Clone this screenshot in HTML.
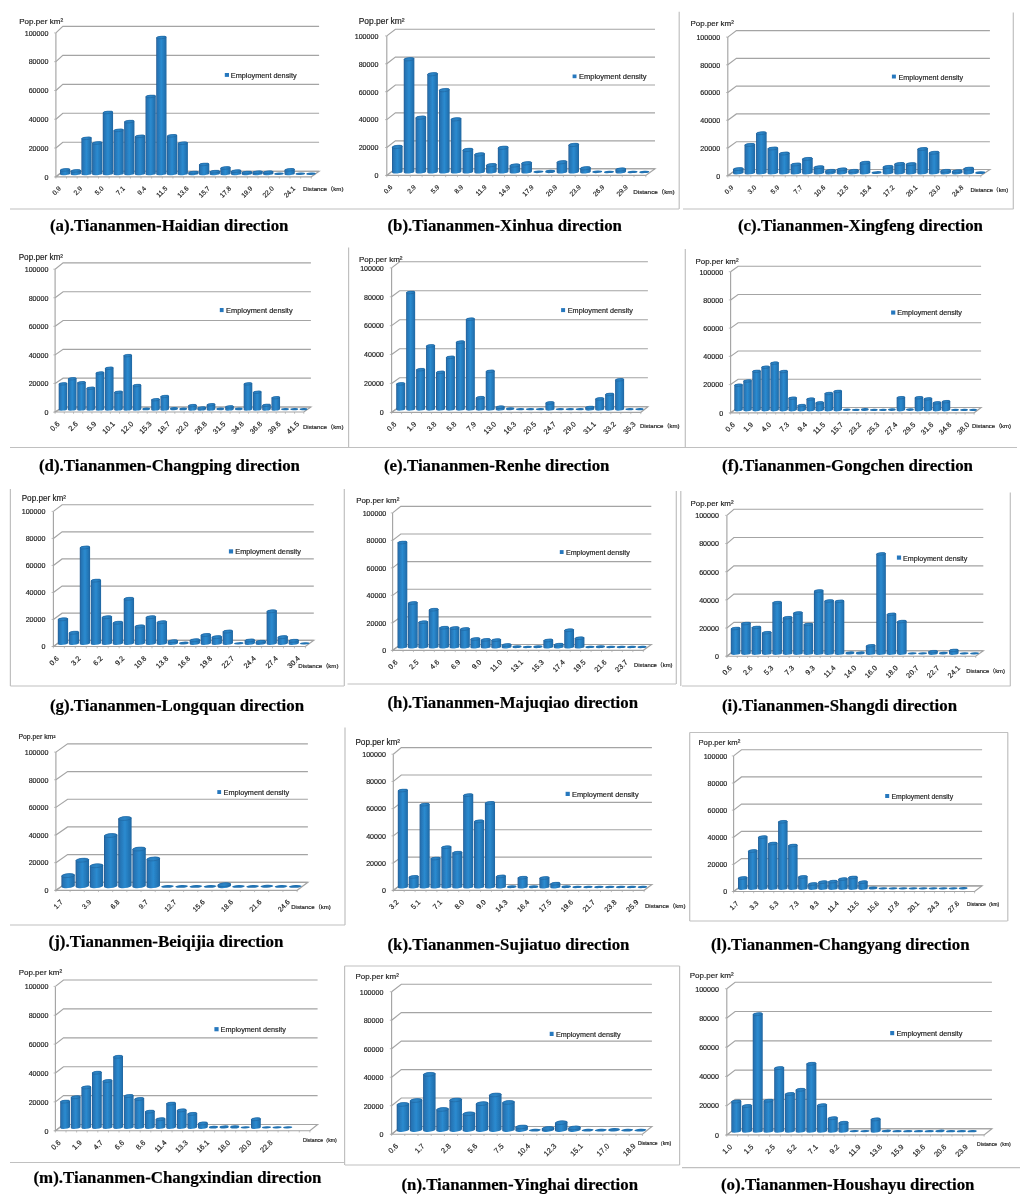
<!DOCTYPE html>
<html lang="en"><head><meta charset="utf-8"><title>Employment density by direction</title>
<style>
html,body{margin:0;padding:0;background:#fff;}
body{width:1024px;height:1200px;overflow:hidden;position:relative;}
svg{position:absolute;left:0;top:0;display:block;}
text{font-family:"Liberation Sans","Noto Sans CJK SC",sans-serif;fill:#1e1e1e;stroke:#1e1e1e;stroke-width:0.18px;}
.cap{font-family:"Liberation Serif",serif;font-weight:bold;font-size:16.6px;fill:#000;stroke:#000;stroke-width:0.2px;}
.g{fill:none;stroke:#a4a4a4;stroke-width:1.15;}
.b{fill:none;stroke:#c0c0c0;stroke-width:1.2;}
.tk{fill:none;stroke:#a8a8a8;stroke-width:0.7;}
.bar{fill:url(#cg);}
.top{fill:url(#tg);stroke:#1d5f98;stroke-width:0.5;}
.lg{fill:#2878be;}
.flat{fill:#2273b3;}
</style></head><body>
<svg width="1024" height="1200" viewBox="0 0 1024 1200">
<defs>
<linearGradient id="cg" x1="0" x2="1" y1="0" y2="0"><stop offset="0" stop-color="#245a8e"/><stop offset="0.12" stop-color="#2672b2"/><stop offset="0.5" stop-color="#2b8bd0"/><stop offset="0.85" stop-color="#2273b3"/><stop offset="1" stop-color="#1f669f"/></linearGradient>
<linearGradient id="tg" x1="0" x2="1" y1="0" y2="0"><stop offset="0" stop-color="#2a78b8"/><stop offset="0.5" stop-color="#2c86c8"/><stop offset="1" stop-color="#2372b0"/></linearGradient>
<filter id="soft" x="0" y="0" width="1024" height="1200" filterUnits="userSpaceOnUse"><feGaussianBlur stdDeviation="0.35"/></filter>
</defs>
<rect x="0" y="0" width="1024" height="1200" fill="#ffffff"/>
<g filter="url(#soft)">
<line class="b" x1="10" y1="209" x2="345" y2="209"/>
<line class="b" x1="345" y1="209" x2="679" y2="209"/>
<line class="b" x1="679.2" y1="11.7" x2="679.2" y2="209"/>
<line class="b" x1="683" y1="209" x2="1013.5" y2="209"/>
<line class="b" x1="1013.3" y1="12.5" x2="1013.3" y2="209"/>
<line class="b" x1="10" y1="447.5" x2="1017" y2="447.5"/>
<line class="b" x1="348.6" y1="247.5" x2="348.6" y2="447.5"/>
<line class="b" x1="685.3" y1="249" x2="685.3" y2="447.5"/>
<line class="b" x1="10.4" y1="489" x2="10.4" y2="686"/>
<line class="b" x1="10.4" y1="686" x2="344" y2="686"/>
<line class="b" x1="344.3" y1="489" x2="344.3" y2="686"/>
<line class="b" x1="347.5" y1="684" x2="676" y2="684"/>
<line class="b" x1="676.3" y1="491" x2="676.3" y2="684"/>
<line class="b" x1="680.8" y1="491" x2="680.8" y2="686"/>
<line class="b" x1="682" y1="686" x2="1010.5" y2="686"/>
<line class="b" x1="1010.3" y1="492.5" x2="1010.3" y2="686"/>
<line class="b" x1="10" y1="925" x2="345" y2="925"/>
<line class="b" x1="345" y1="727.5" x2="345" y2="925"/>
<line class="b" x1="689.7" y1="732.5" x2="1008" y2="732.5"/>
<line class="b" x1="689.7" y1="732.5" x2="689.7" y2="921"/>
<line class="b" x1="689.7" y1="921" x2="1007.5" y2="921"/>
<line class="b" x1="1007.8" y1="732.5" x2="1007.8" y2="921"/>
<line class="b" x1="10" y1="1162.5" x2="345" y2="1162.5"/>
<line class="b" x1="344.6" y1="966" x2="344.6" y2="1165"/>
<line class="b" x1="344.6" y1="966" x2="679.6" y2="966"/>
<line class="b" x1="679.6" y1="966" x2="679.6" y2="1165"/>
<line class="b" x1="345" y1="1165" x2="679.6" y2="1165"/>
<line class="b" x1="682" y1="1167.7" x2="1020" y2="1167.7"/>
<g id="panel-a">
<polyline class="g" points="55.9,32.9 62.8,26.4 319.1,26.4"/>
<polyline class="g" points="55.9,61.68 62.8,55.36 319.1,55.36"/>
<polyline class="g" points="55.9,90.46 62.8,84.32 319.1,84.32"/>
<polyline class="g" points="55.9,119.24 62.8,113.28 319.1,113.28"/>
<polyline class="g" points="55.9,148.02 62.8,142.24 319.1,142.24"/>
<polyline class="g" points="55.9,176.8 62.8,171.2 319.1,171.2"/>
<polygon class="g" points="55.9,176.8 62.8,171.2 319.1,171.2 311.3,176.8"/>
<line class="g" x1="55.9" y1="32.9" x2="55.9" y2="176.8"/>
<path class="tk" d="M55.9,32.9 h-1.8 M55.9,61.68 h-1.8 M55.9,90.46 h-1.8 M55.9,119.24 h-1.8 M55.9,148.02 h-1.8 M55.9,176.8 h-1.8"/>
<path class="tk" d="M55.9,176.8 v1.8 M66.54,176.8 v1.8 M77.18,176.8 v1.8 M87.83,176.8 v1.8 M98.47,176.8 v1.8 M109.11,176.8 v1.8 M119.75,176.8 v1.8 M130.39,176.8 v1.8 M141.03,176.8 v1.8 M151.68,176.8 v1.8 M162.32,176.8 v1.8 M172.96,176.8 v1.8 M183.6,176.8 v1.8 M194.24,176.8 v1.8 M204.88,176.8 v1.8 M215.53,176.8 v1.8 M226.17,176.8 v1.8 M236.81,176.8 v1.8 M247.45,176.8 v1.8 M258.09,176.8 v1.8 M268.73,176.8 v1.8 M279.38,176.8 v1.8 M290.02,176.8 v1.8 M300.66,176.8 v1.8 M311.3,176.8 v1.8"/>
<text x="48.4" y="35.71" font-size="7.1" text-anchor="end">100000</text>
<text x="48.4" y="64.49" font-size="7.1" text-anchor="end">80000</text>
<text x="48.4" y="93.27" font-size="7.1" text-anchor="end">60000</text>
<text x="48.4" y="122.05" font-size="7.1" text-anchor="end">40000</text>
<text x="48.4" y="150.83" font-size="7.1" text-anchor="end">20000</text>
<text x="48.4" y="179.61" font-size="7.1" text-anchor="end">0</text>
<path class="bar" d="M60,170.36 L60,174.25 A5.15,1.4 -5 0 0 70.3,173.35 L70.3,169.46 A5.15,1.4 -5 0 0 60,170.36Z"/>
<ellipse class="top" cx="65.15" cy="169.91" rx="4.9" ry="1.3" transform="rotate(-5 65.15 169.91)"/>
<path class="bar" d="M70.69,171.34 L70.69,174.25 A5.15,1.4 -5 0 0 80.99,173.35 L80.99,170.44 A5.15,1.4 -5 0 0 70.69,171.34Z"/>
<ellipse class="top" cx="75.84" cy="170.89" rx="4.9" ry="1.3" transform="rotate(-5 75.84 170.89)"/>
<path class="bar" d="M81.38,138.75 L81.38,174.25 A5.15,1.4 -5 0 0 91.68,173.35 L91.68,137.85 A5.15,1.4 -5 0 0 81.38,138.75Z"/>
<ellipse class="top" cx="86.53" cy="138.3" rx="4.9" ry="1.3" transform="rotate(-5 86.53 138.3)"/>
<path class="bar" d="M92.07,143.45 L92.07,174.25 A5.15,1.4 -5 0 0 102.37,173.35 L102.37,142.55 A5.15,1.4 -5 0 0 92.07,143.45Z"/>
<ellipse class="top" cx="97.22" cy="143" rx="4.9" ry="1.3" transform="rotate(-5 97.22 143)"/>
<path class="bar" d="M102.76,112.85 L102.76,174.25 A5.15,1.4 -5 0 0 113.06,173.35 L113.06,111.95 A5.15,1.4 -5 0 0 102.76,112.85Z"/>
<ellipse class="top" cx="107.91" cy="112.4" rx="4.9" ry="1.3" transform="rotate(-5 107.91 112.4)"/>
<path class="bar" d="M113.45,130.75 L113.45,174.25 A5.15,1.4 -5 0 0 123.75,173.35 L123.75,129.85 A5.15,1.4 -5 0 0 113.45,130.75Z"/>
<ellipse class="top" cx="118.6" cy="130.3" rx="4.9" ry="1.3" transform="rotate(-5 118.6 130.3)"/>
<path class="bar" d="M124.14,122.05 L124.14,174.25 A5.15,1.4 -5 0 0 134.44,173.35 L134.44,121.15 A5.15,1.4 -5 0 0 124.14,122.05Z"/>
<ellipse class="top" cx="129.29" cy="121.6" rx="4.9" ry="1.3" transform="rotate(-5 129.29 121.6)"/>
<path class="bar" d="M134.83,136.75 L134.83,174.25 A5.15,1.4 -5 0 0 145.13,173.35 L145.13,135.85 A5.15,1.4 -5 0 0 134.83,136.75Z"/>
<ellipse class="top" cx="139.98" cy="136.3" rx="4.9" ry="1.3" transform="rotate(-5 139.98 136.3)"/>
<path class="bar" d="M145.52,96.85 L145.52,174.25 A5.15,1.4 -5 0 0 155.82,173.35 L155.82,95.95 A5.15,1.4 -5 0 0 145.52,96.85Z"/>
<ellipse class="top" cx="150.67" cy="96.4" rx="4.9" ry="1.3" transform="rotate(-5 150.67 96.4)"/>
<path class="bar" d="M156.21,37.95 L156.21,174.25 A5.15,1.4 -5 0 0 166.51,173.35 L166.51,37.05 A5.15,1.4 -5 0 0 156.21,37.95Z"/>
<ellipse class="top" cx="161.36" cy="37.5" rx="4.9" ry="1.3" transform="rotate(-5 161.36 37.5)"/>
<path class="bar" d="M166.9,136.25 L166.9,174.25 A5.15,1.4 -5 0 0 177.2,173.35 L177.2,135.35 A5.15,1.4 -5 0 0 166.9,136.25Z"/>
<ellipse class="top" cx="172.05" cy="135.8" rx="4.9" ry="1.3" transform="rotate(-5 172.05 135.8)"/>
<path class="bar" d="M177.59,143.65 L177.59,174.25 A5.15,1.4 -5 0 0 187.89,173.35 L187.89,142.75 A5.15,1.4 -5 0 0 177.59,143.65Z"/>
<ellipse class="top" cx="182.74" cy="143.2" rx="4.9" ry="1.3" transform="rotate(-5 182.74 143.2)"/>
<path class="bar" d="M188.28,172.96 L188.28,174.25 A5.15,1.4 -5 0 0 198.58,173.35 L198.58,172.07 A5.15,1.4 -5 0 0 188.28,172.96Z"/>
<ellipse class="top" cx="193.43" cy="172.52" rx="4.9" ry="1.3" transform="rotate(-5 193.43 172.52)"/>
<path class="bar" d="M198.97,164.85 L198.97,174.25 A5.15,1.4 -5 0 0 209.27,173.35 L209.27,163.95 A5.15,1.4 -5 0 0 198.97,164.85Z"/>
<ellipse class="top" cx="204.12" cy="164.4" rx="4.9" ry="1.3" transform="rotate(-5 204.12 164.4)"/>
<path class="bar" d="M209.66,172.1 L209.66,174.25 A5.15,1.4 -5 0 0 219.96,173.35 L219.96,171.2 A5.15,1.4 -5 0 0 209.66,172.1Z"/>
<ellipse class="top" cx="214.81" cy="171.65" rx="4.9" ry="1.3" transform="rotate(-5 214.81 171.65)"/>
<path class="bar" d="M220.35,168.41 L220.35,174.25 A5.15,1.4 -5 0 0 230.65,173.35 L230.65,167.51 A5.15,1.4 -5 0 0 220.35,168.41Z"/>
<ellipse class="top" cx="225.5" cy="167.96" rx="4.9" ry="1.3" transform="rotate(-5 225.5 167.96)"/>
<path class="bar" d="M231.04,171.55 L231.04,174.25 A5.15,1.4 -5 0 0 241.34,173.35 L241.34,170.66 A5.15,1.4 -5 0 0 231.04,171.55Z"/>
<ellipse class="top" cx="236.19" cy="171.1" rx="4.9" ry="1.3" transform="rotate(-5 236.19 171.1)"/>
<path class="bar" d="M241.73,172.96 L241.73,174.25 A5.15,1.4 -5 0 0 252.03,173.35 L252.03,172.07 A5.15,1.4 -5 0 0 241.73,172.96Z"/>
<ellipse class="top" cx="246.88" cy="172.52" rx="4.9" ry="1.3" transform="rotate(-5 246.88 172.52)"/>
<path class="bar" d="M252.42,172.64 L252.42,174.25 A5.15,1.4 -5 0 0 262.72,173.35 L262.72,171.74 A5.15,1.4 -5 0 0 252.42,172.64Z"/>
<ellipse class="top" cx="257.57" cy="172.19" rx="4.9" ry="1.3" transform="rotate(-5 257.57 172.19)"/>
<path class="bar" d="M263.11,172.64 L263.11,174.25 A5.15,1.4 -5 0 0 273.41,173.35 L273.41,171.74 A5.15,1.4 -5 0 0 263.11,172.64Z"/>
<ellipse class="top" cx="268.26" cy="172.19" rx="4.9" ry="1.3" transform="rotate(-5 268.26 172.19)"/>
<ellipse class="flat" cx="278.95" cy="173.75" rx="4.85" ry="1.15" transform="rotate(-3 278.95 173.75)"/>
<path class="bar" d="M284.49,170.25 L284.49,174.25 A5.15,1.4 -5 0 0 294.79,173.35 L294.79,169.35 A5.15,1.4 -5 0 0 284.49,170.25Z"/>
<ellipse class="top" cx="289.64" cy="169.8" rx="4.9" ry="1.3" transform="rotate(-5 289.64 169.8)"/>
<ellipse class="flat" cx="300.33" cy="173.75" rx="4.85" ry="1.15" transform="rotate(-3 300.33 173.75)"/>
<ellipse class="flat" cx="311.02" cy="173.75" rx="4.85" ry="1.15" transform="rotate(-3 311.02 173.75)"/>
<text transform="translate(59.72,187.3) rotate(-45)" font-size="6.6" text-anchor="end" y="2.38" stroke-width="0.2">0.9</text>
<text transform="translate(81,187.3) rotate(-45)" font-size="6.6" text-anchor="end" y="2.38" stroke-width="0.2">2.9</text>
<text transform="translate(102.29,187.3) rotate(-45)" font-size="6.6" text-anchor="end" y="2.38" stroke-width="0.2">5.0</text>
<text transform="translate(123.57,187.3) rotate(-45)" font-size="6.6" text-anchor="end" y="2.38" stroke-width="0.2">7.1</text>
<text transform="translate(144.85,187.3) rotate(-45)" font-size="6.6" text-anchor="end" y="2.38" stroke-width="0.2">9.4</text>
<text transform="translate(166.14,187.3) rotate(-45)" font-size="6.6" text-anchor="end" y="2.38" stroke-width="0.2">11.5</text>
<text transform="translate(187.42,187.3) rotate(-45)" font-size="6.6" text-anchor="end" y="2.38" stroke-width="0.2">13.6</text>
<text transform="translate(208.7,187.3) rotate(-45)" font-size="6.6" text-anchor="end" y="2.38" stroke-width="0.2">15.7</text>
<text transform="translate(229.99,187.3) rotate(-45)" font-size="6.6" text-anchor="end" y="2.38" stroke-width="0.2">17.8</text>
<text transform="translate(251.27,187.3) rotate(-45)" font-size="6.6" text-anchor="end" y="2.38" stroke-width="0.2">19.9</text>
<text transform="translate(272.55,187.3) rotate(-45)" font-size="6.6" text-anchor="end" y="2.38" stroke-width="0.2">22.0</text>
<text transform="translate(293.84,187.3) rotate(-45)" font-size="6.6" text-anchor="end" y="2.38" stroke-width="0.2">24.1</text>
<rect class="lg" x="224.8" y="73" width="4.2" height="3.9"/>
<text x="230.8" y="78.09" font-size="7.3" textLength="65.8" lengthAdjust="spacingAndGlyphs">Employment density</text>
<text x="303" y="191.34" font-size="5.87" textLength="40.5" lengthAdjust="spacingAndGlyphs">Distance（km)</text>
<text x="19.2" y="23.82" font-size="8.06" textLength="43.9" lengthAdjust="spacingAndGlyphs">Pop.per km²</text>
<text class="cap" x="50" y="231.2" textLength="238.5" lengthAdjust="spacingAndGlyphs">(a).Tiananmen-Haidian direction</text>
</g>
<g id="panel-b">
<polyline class="g" points="386.8,35.9 395.4,29.2 655,29.2"/>
<polyline class="g" points="386.8,63.8 395.4,57.1 655,57.1"/>
<polyline class="g" points="386.8,91.7 395.4,85 655,85"/>
<polyline class="g" points="386.8,119.6 395.4,112.9 655,112.9"/>
<polyline class="g" points="386.8,147.5 395.4,140.8 655,140.8"/>
<polyline class="g" points="386.8,175.4 395.4,168.7 655,168.7"/>
<polygon class="g" points="386.8,175.4 395.4,168.7 655,168.7 645.8,175.4"/>
<line class="g" x1="386.8" y1="35.9" x2="386.8" y2="175.4"/>
<path class="tk" d="M386.8,35.9 h-1.8 M386.8,63.8 h-1.8 M386.8,91.7 h-1.8 M386.8,119.6 h-1.8 M386.8,147.5 h-1.8 M386.8,175.4 h-1.8"/>
<path class="tk" d="M386.8,175.4 v1.8 M398.57,175.4 v1.8 M410.35,175.4 v1.8 M422.12,175.4 v1.8 M433.89,175.4 v1.8 M445.66,175.4 v1.8 M457.44,175.4 v1.8 M469.21,175.4 v1.8 M480.98,175.4 v1.8 M492.75,175.4 v1.8 M504.53,175.4 v1.8 M516.3,175.4 v1.8 M528.07,175.4 v1.8 M539.85,175.4 v1.8 M551.62,175.4 v1.8 M563.39,175.4 v1.8 M575.16,175.4 v1.8 M586.94,175.4 v1.8 M598.71,175.4 v1.8 M610.48,175.4 v1.8 M622.25,175.4 v1.8 M634.03,175.4 v1.8 M645.8,175.4 v1.8"/>
<text x="378.4" y="38.71" font-size="7.1" text-anchor="end">100000</text>
<text x="378.4" y="66.61" font-size="7.1" text-anchor="end">80000</text>
<text x="378.4" y="94.51" font-size="7.1" text-anchor="end">60000</text>
<text x="378.4" y="122.41" font-size="7.1" text-anchor="end">40000</text>
<text x="378.4" y="150.31" font-size="7.1" text-anchor="end">20000</text>
<text x="378.4" y="178.21" font-size="7.1" text-anchor="end">0</text>
<path class="bar" d="M392,147.36 L392,172.19 A5.3,1.68 -5 0 0 402.6,171.26 L402.6,146.44 A5.3,1.68 -5 0 0 392,147.36Z"/>
<ellipse class="top" cx="397.3" cy="146.9" rx="5.05" ry="1.58" transform="rotate(-5 397.3 146.9)"/>
<path class="bar" d="M403.76,59.66 L403.76,172.19 A5.3,1.68 -5 0 0 414.36,171.26 L414.36,58.74 A5.3,1.68 -5 0 0 403.76,59.66Z"/>
<ellipse class="top" cx="409.06" cy="59.2" rx="5.05" ry="1.58" transform="rotate(-5 409.06 59.2)"/>
<path class="bar" d="M415.52,118.06 L415.52,172.19 A5.3,1.68 -5 0 0 426.12,171.26 L426.12,117.14 A5.3,1.68 -5 0 0 415.52,118.06Z"/>
<ellipse class="top" cx="420.82" cy="117.6" rx="5.05" ry="1.58" transform="rotate(-5 420.82 117.6)"/>
<path class="bar" d="M427.28,74.66 L427.28,172.19 A5.3,1.68 -5 0 0 437.88,171.26 L437.88,73.74 A5.3,1.68 -5 0 0 427.28,74.66Z"/>
<ellipse class="top" cx="432.58" cy="74.2" rx="5.05" ry="1.58" transform="rotate(-5 432.58 74.2)"/>
<path class="bar" d="M439.04,90.56 L439.04,172.19 A5.3,1.68 -5 0 0 449.64,171.26 L449.64,89.64 A5.3,1.68 -5 0 0 439.04,90.56Z"/>
<ellipse class="top" cx="444.34" cy="90.1" rx="5.05" ry="1.58" transform="rotate(-5 444.34 90.1)"/>
<path class="bar" d="M450.8,119.76 L450.8,172.19 A5.3,1.68 -5 0 0 461.4,171.26 L461.4,118.84 A5.3,1.68 -5 0 0 450.8,119.76Z"/>
<ellipse class="top" cx="456.1" cy="119.3" rx="5.05" ry="1.58" transform="rotate(-5 456.1 119.3)"/>
<path class="bar" d="M462.56,150.36 L462.56,172.19 A5.3,1.68 -5 0 0 473.16,171.26 L473.16,149.44 A5.3,1.68 -5 0 0 462.56,150.36Z"/>
<ellipse class="top" cx="467.86" cy="149.9" rx="5.05" ry="1.58" transform="rotate(-5 467.86 149.9)"/>
<path class="bar" d="M474.32,154.86 L474.32,172.19 A5.3,1.68 -5 0 0 484.92,171.26 L484.92,153.94 A5.3,1.68 -5 0 0 474.32,154.86Z"/>
<ellipse class="top" cx="479.62" cy="154.4" rx="5.05" ry="1.58" transform="rotate(-5 479.62 154.4)"/>
<path class="bar" d="M486.08,165.59 L486.08,172.19 A5.3,1.68 -5 0 0 496.68,171.26 L496.68,164.67 A5.3,1.68 -5 0 0 486.08,165.59Z"/>
<ellipse class="top" cx="491.38" cy="165.13" rx="5.05" ry="1.58" transform="rotate(-5 491.38 165.13)"/>
<path class="bar" d="M497.84,148.16 L497.84,172.19 A5.3,1.68 -5 0 0 508.44,171.26 L508.44,147.24 A5.3,1.68 -5 0 0 497.84,148.16Z"/>
<ellipse class="top" cx="503.14" cy="147.7" rx="5.05" ry="1.58" transform="rotate(-5 503.14 147.7)"/>
<path class="bar" d="M509.6,165.93 L509.6,172.19 A5.3,1.68 -5 0 0 520.2,171.26 L520.2,165 A5.3,1.68 -5 0 0 509.6,165.93Z"/>
<ellipse class="top" cx="514.9" cy="165.46" rx="5.05" ry="1.58" transform="rotate(-5 514.9 165.46)"/>
<path class="bar" d="M521.36,163.72 L521.36,172.19 A5.3,1.68 -5 0 0 531.96,171.26 L531.96,162.8 A5.3,1.68 -5 0 0 521.36,163.72Z"/>
<ellipse class="top" cx="526.66" cy="163.26" rx="5.05" ry="1.58" transform="rotate(-5 526.66 163.26)"/>
<ellipse class="flat" cx="538.42" cy="171.79" rx="5" ry="1.31" transform="rotate(-3 538.42 171.79)"/>
<ellipse class="flat" cx="550.18" cy="171.44" rx="5" ry="1.66" transform="rotate(-3 550.18 171.44)"/>
<path class="bar" d="M556.64,162.66 L556.64,172.19 A5.3,1.68 -5 0 0 567.24,171.26 L567.24,161.74 A5.3,1.68 -5 0 0 556.64,162.66Z"/>
<ellipse class="top" cx="561.94" cy="162.2" rx="5.05" ry="1.58" transform="rotate(-5 561.94 162.2)"/>
<path class="bar" d="M568.4,145.36 L568.4,172.19 A5.3,1.68 -5 0 0 579,171.26 L579,144.44 A5.3,1.68 -5 0 0 568.4,145.36Z"/>
<ellipse class="top" cx="573.7" cy="144.9" rx="5.05" ry="1.58" transform="rotate(-5 573.7 144.9)"/>
<path class="bar" d="M580.16,168.68 L580.16,172.19 A5.3,1.68 -5 0 0 590.76,171.26 L590.76,167.76 A5.3,1.68 -5 0 0 580.16,168.68Z"/>
<ellipse class="top" cx="585.46" cy="168.22" rx="5.05" ry="1.58" transform="rotate(-5 585.46 168.22)"/>
<ellipse class="flat" cx="597.22" cy="171.84" rx="5" ry="1.26" transform="rotate(-3 597.22 171.84)"/>
<ellipse class="flat" cx="608.98" cy="171.93" rx="5" ry="1.17" transform="rotate(-3 608.98 171.93)"/>
<path class="bar" d="M615.44,170 L615.44,172.19 A5.3,1.68 -5 0 0 626.04,171.26 L626.04,169.08 A5.3,1.68 -5 0 0 615.44,170Z"/>
<ellipse class="top" cx="620.74" cy="169.54" rx="5.05" ry="1.58" transform="rotate(-5 620.74 169.54)"/>
<ellipse class="flat" cx="632.5" cy="171.93" rx="5" ry="1.17" transform="rotate(-3 632.5 171.93)"/>
<ellipse class="flat" cx="644.26" cy="171.93" rx="5" ry="1.17" transform="rotate(-3 644.26 171.93)"/>
<text transform="translate(391.19,185.9) rotate(-45)" font-size="6.6" text-anchor="end" y="2.38" stroke-width="0.2">0.6</text>
<text transform="translate(414.73,185.9) rotate(-45)" font-size="6.6" text-anchor="end" y="2.38" stroke-width="0.2">2.9</text>
<text transform="translate(438.28,185.9) rotate(-45)" font-size="6.6" text-anchor="end" y="2.38" stroke-width="0.2">5.9</text>
<text transform="translate(461.82,185.9) rotate(-45)" font-size="6.6" text-anchor="end" y="2.38" stroke-width="0.2">8.9</text>
<text transform="translate(485.37,185.9) rotate(-45)" font-size="6.6" text-anchor="end" y="2.38" stroke-width="0.2">11.9</text>
<text transform="translate(508.91,185.9) rotate(-45)" font-size="6.6" text-anchor="end" y="2.38" stroke-width="0.2">14.9</text>
<text transform="translate(532.46,185.9) rotate(-45)" font-size="6.6" text-anchor="end" y="2.38" stroke-width="0.2">17.9</text>
<text transform="translate(556,185.9) rotate(-45)" font-size="6.6" text-anchor="end" y="2.38" stroke-width="0.2">20.9</text>
<text transform="translate(579.55,185.9) rotate(-45)" font-size="6.6" text-anchor="end" y="2.38" stroke-width="0.2">23.9</text>
<text transform="translate(603.1,185.9) rotate(-45)" font-size="6.6" text-anchor="end" y="2.38" stroke-width="0.2">26.9</text>
<text transform="translate(626.64,185.9) rotate(-45)" font-size="6.6" text-anchor="end" y="2.38" stroke-width="0.2">29.9</text>
<rect class="lg" x="572.6" y="74.5" width="3.9" height="3.7"/>
<text x="579" y="79.19" font-size="7.3" textLength="67.6" lengthAdjust="spacingAndGlyphs">Employment density</text>
<text x="633.2" y="193.88" font-size="6.01" textLength="41.5" lengthAdjust="spacingAndGlyphs">Distance（km)</text>
<text x="358.7" y="23.93" font-size="8.43" textLength="45.9" lengthAdjust="spacingAndGlyphs">Pop.per km²</text>
<text class="cap" x="387.5" y="231.2" textLength="234.5" lengthAdjust="spacingAndGlyphs">(b).Tiananmen-Xinhua direction</text>
</g>
<g id="panel-c">
<polyline class="g" points="727.8,37.1 736.4,30.6 989.9,30.6"/>
<polyline class="g" points="727.8,64.82 736.4,58.38 989.9,58.38"/>
<polyline class="g" points="727.8,92.54 736.4,86.16 989.9,86.16"/>
<polyline class="g" points="727.8,120.26 736.4,113.94 989.9,113.94"/>
<polyline class="g" points="727.8,147.98 736.4,141.72 989.9,141.72"/>
<polyline class="g" points="727.8,175.7 736.4,169.5 989.9,169.5"/>
<polygon class="g" points="727.8,175.7 736.4,169.5 989.9,169.5 980.8,175.7"/>
<line class="g" x1="727.8" y1="37.1" x2="727.8" y2="175.7"/>
<path class="tk" d="M727.8,37.1 h-1.8 M727.8,64.82 h-1.8 M727.8,92.54 h-1.8 M727.8,120.26 h-1.8 M727.8,147.98 h-1.8 M727.8,175.7 h-1.8"/>
<path class="tk" d="M727.8,175.7 v1.8 M739.3,175.7 v1.8 M750.8,175.7 v1.8 M762.3,175.7 v1.8 M773.8,175.7 v1.8 M785.3,175.7 v1.8 M796.8,175.7 v1.8 M808.3,175.7 v1.8 M819.8,175.7 v1.8 M831.3,175.7 v1.8 M842.8,175.7 v1.8 M854.3,175.7 v1.8 M865.8,175.7 v1.8 M877.3,175.7 v1.8 M888.8,175.7 v1.8 M900.3,175.7 v1.8 M911.8,175.7 v1.8 M923.3,175.7 v1.8 M934.8,175.7 v1.8 M946.3,175.7 v1.8 M957.8,175.7 v1.8 M969.3,175.7 v1.8 M980.8,175.7 v1.8"/>
<text x="720.1" y="39.91" font-size="7.1" text-anchor="end">100000</text>
<text x="720.1" y="67.63" font-size="7.1" text-anchor="end">80000</text>
<text x="720.1" y="95.35" font-size="7.1" text-anchor="end">60000</text>
<text x="720.1" y="123.07" font-size="7.1" text-anchor="end">40000</text>
<text x="720.1" y="150.79" font-size="7.1" text-anchor="end">20000</text>
<text x="720.1" y="178.51" font-size="7.1" text-anchor="end">0</text>
<path class="bar" d="M733,169.53 L733,173.21 A5.3,1.55 -5 0 0 743.6,172.29 L743.6,168.61 A5.3,1.55 -5 0 0 733,169.53Z"/>
<ellipse class="top" cx="738.3" cy="169.07" rx="5.05" ry="1.45" transform="rotate(-5 738.3 169.07)"/>
<path class="bar" d="M744.52,145.36 L744.52,173.21 A5.3,1.55 -5 0 0 755.12,172.29 L755.12,144.44 A5.3,1.55 -5 0 0 744.52,145.36Z"/>
<ellipse class="top" cx="749.82" cy="144.9" rx="5.05" ry="1.45" transform="rotate(-5 749.82 144.9)"/>
<path class="bar" d="M756.04,133.66 L756.04,173.21 A5.3,1.55 -5 0 0 766.64,172.29 L766.64,132.74 A5.3,1.55 -5 0 0 756.04,133.66Z"/>
<ellipse class="top" cx="761.34" cy="133.2" rx="5.05" ry="1.45" transform="rotate(-5 761.34 133.2)"/>
<path class="bar" d="M767.56,148.96 L767.56,173.21 A5.3,1.55 -5 0 0 778.16,172.29 L778.16,148.04 A5.3,1.55 -5 0 0 767.56,148.96Z"/>
<ellipse class="top" cx="772.86" cy="148.5" rx="5.05" ry="1.45" transform="rotate(-5 772.86 148.5)"/>
<path class="bar" d="M779.08,153.96 L779.08,173.21 A5.3,1.55 -5 0 0 789.68,172.29 L789.68,153.04 A5.3,1.55 -5 0 0 779.08,153.96Z"/>
<ellipse class="top" cx="784.38" cy="153.5" rx="5.05" ry="1.45" transform="rotate(-5 784.38 153.5)"/>
<path class="bar" d="M790.6,164.93 L790.6,173.21 A5.3,1.55 -5 0 0 801.2,172.29 L801.2,164.01 A5.3,1.55 -5 0 0 790.6,164.93Z"/>
<ellipse class="top" cx="795.9" cy="164.47" rx="5.05" ry="1.45" transform="rotate(-5 795.9 164.47)"/>
<path class="bar" d="M802.12,159.36 L802.12,173.21 A5.3,1.55 -5 0 0 812.72,172.29 L812.72,158.44 A5.3,1.55 -5 0 0 802.12,159.36Z"/>
<ellipse class="top" cx="807.42" cy="158.9" rx="5.05" ry="1.45" transform="rotate(-5 807.42 158.9)"/>
<path class="bar" d="M813.64,167.67 L813.64,173.21 A5.3,1.55 -5 0 0 824.24,172.29 L824.24,166.75 A5.3,1.55 -5 0 0 813.64,167.67Z"/>
<ellipse class="top" cx="818.94" cy="167.21" rx="5.05" ry="1.45" transform="rotate(-5 818.94 167.21)"/>
<path class="bar" d="M825.16,171.28 L825.16,173.21 A5.3,1.55 -5 0 0 835.76,172.29 L835.76,170.36 A5.3,1.55 -5 0 0 825.16,171.28Z"/>
<ellipse class="top" cx="830.46" cy="170.82" rx="5.05" ry="1.45" transform="rotate(-5 830.46 170.82)"/>
<path class="bar" d="M836.68,169.86 L836.68,173.21 A5.3,1.55 -5 0 0 847.28,172.29 L847.28,168.94 A5.3,1.55 -5 0 0 836.68,169.86Z"/>
<ellipse class="top" cx="841.98" cy="169.4" rx="5.05" ry="1.45" transform="rotate(-5 841.98 169.4)"/>
<path class="bar" d="M848.2,171.28 L848.2,173.21 A5.3,1.55 -5 0 0 858.8,172.29 L858.8,170.36 A5.3,1.55 -5 0 0 848.2,171.28Z"/>
<ellipse class="top" cx="853.5" cy="170.82" rx="5.05" ry="1.45" transform="rotate(-5 853.5 170.82)"/>
<path class="bar" d="M859.72,163.16 L859.72,173.21 A5.3,1.55 -5 0 0 870.32,172.29 L870.32,162.24 A5.3,1.55 -5 0 0 859.72,163.16Z"/>
<ellipse class="top" cx="865.02" cy="162.7" rx="5.05" ry="1.45" transform="rotate(-5 865.02 162.7)"/>
<ellipse class="flat" cx="876.54" cy="172.57" rx="5" ry="1.43" transform="rotate(-3 876.54 172.57)"/>
<path class="bar" d="M882.76,167.34 L882.76,173.21 A5.3,1.55 -5 0 0 893.36,172.29 L893.36,166.42 A5.3,1.55 -5 0 0 882.76,167.34Z"/>
<ellipse class="top" cx="888.06" cy="166.88" rx="5.05" ry="1.45" transform="rotate(-5 888.06 166.88)"/>
<path class="bar" d="M894.28,164.39 L894.28,173.21 A5.3,1.55 -5 0 0 904.88,172.29 L904.88,163.46 A5.3,1.55 -5 0 0 894.28,164.39Z"/>
<ellipse class="top" cx="899.58" cy="163.92" rx="5.05" ry="1.45" transform="rotate(-5 899.58 163.92)"/>
<path class="bar" d="M905.8,164.6 L905.8,173.21 A5.3,1.55 -5 0 0 916.4,172.29 L916.4,163.68 A5.3,1.55 -5 0 0 905.8,164.6Z"/>
<ellipse class="top" cx="911.1" cy="164.14" rx="5.05" ry="1.45" transform="rotate(-5 911.1 164.14)"/>
<path class="bar" d="M917.32,149.46 L917.32,173.21 A5.3,1.55 -5 0 0 927.92,172.29 L927.92,148.54 A5.3,1.55 -5 0 0 917.32,149.46Z"/>
<ellipse class="top" cx="922.62" cy="149" rx="5.05" ry="1.45" transform="rotate(-5 922.62 149)"/>
<path class="bar" d="M928.84,153.16 L928.84,173.21 A5.3,1.55 -5 0 0 939.44,172.29 L939.44,152.24 A5.3,1.55 -5 0 0 928.84,153.16Z"/>
<ellipse class="top" cx="934.14" cy="152.7" rx="5.05" ry="1.45" transform="rotate(-5 934.14 152.7)"/>
<path class="bar" d="M940.36,171.28 L940.36,173.21 A5.3,1.55 -5 0 0 950.96,172.29 L950.96,170.36 A5.3,1.55 -5 0 0 940.36,171.28Z"/>
<ellipse class="top" cx="945.66" cy="170.82" rx="5.05" ry="1.45" transform="rotate(-5 945.66 170.82)"/>
<path class="bar" d="M951.88,171.72 L951.88,173.21 A5.3,1.55 -5 0 0 962.48,172.29 L962.48,170.8 A5.3,1.55 -5 0 0 951.88,171.72Z"/>
<ellipse class="top" cx="957.18" cy="171.26" rx="5.05" ry="1.45" transform="rotate(-5 957.18 171.26)"/>
<path class="bar" d="M963.4,169.09 L963.4,173.21 A5.3,1.55 -5 0 0 974,172.29 L974,168.17 A5.3,1.55 -5 0 0 963.4,169.09Z"/>
<ellipse class="top" cx="968.7" cy="168.63" rx="5.05" ry="1.45" transform="rotate(-5 968.7 168.63)"/>
<ellipse class="flat" cx="980.22" cy="172.67" rx="5" ry="1.33" transform="rotate(-3 980.22 172.67)"/>
<text transform="translate(732.05,186.2) rotate(-45)" font-size="6.6" text-anchor="end" y="2.38" stroke-width="0.2">0.9</text>
<text transform="translate(755.05,186.2) rotate(-45)" font-size="6.6" text-anchor="end" y="2.38" stroke-width="0.2">3.0</text>
<text transform="translate(778.05,186.2) rotate(-45)" font-size="6.6" text-anchor="end" y="2.38" stroke-width="0.2">5.9</text>
<text transform="translate(801.05,186.2) rotate(-45)" font-size="6.6" text-anchor="end" y="2.38" stroke-width="0.2">7.7</text>
<text transform="translate(824.05,186.2) rotate(-45)" font-size="6.6" text-anchor="end" y="2.38" stroke-width="0.2">10.6</text>
<text transform="translate(847.05,186.2) rotate(-45)" font-size="6.6" text-anchor="end" y="2.38" stroke-width="0.2">12.5</text>
<text transform="translate(870.05,186.2) rotate(-45)" font-size="6.6" text-anchor="end" y="2.38" stroke-width="0.2">15.4</text>
<text transform="translate(893.05,186.2) rotate(-45)" font-size="6.6" text-anchor="end" y="2.38" stroke-width="0.2">17.2</text>
<text transform="translate(916.05,186.2) rotate(-45)" font-size="6.6" text-anchor="end" y="2.38" stroke-width="0.2">20.1</text>
<text transform="translate(939.05,186.2) rotate(-45)" font-size="6.6" text-anchor="end" y="2.38" stroke-width="0.2">23.0</text>
<text transform="translate(962.05,186.2) rotate(-45)" font-size="6.6" text-anchor="end" y="2.38" stroke-width="0.2">24.8</text>
<rect class="lg" x="891.9" y="74.6" width="4" height="3.9"/>
<text x="898.4" y="79.69" font-size="7.3" textLength="64.8" lengthAdjust="spacingAndGlyphs">Employment density</text>
<text x="970.4" y="192.41" font-size="5.49" textLength="37.9" lengthAdjust="spacingAndGlyphs">Distance（km)</text>
<text x="690.5" y="26.29" font-size="7.97" textLength="43.4" lengthAdjust="spacingAndGlyphs">Pop.per km²</text>
<text class="cap" x="738" y="231.2" textLength="245" lengthAdjust="spacingAndGlyphs">(c).Tiananmen-Xingfeng direction</text>
</g>
<g id="panel-d">
<polyline class="g" points="55.1,269.2 63.1,262.9 310.9,262.9"/>
<polyline class="g" points="55.1,297.76 63.1,291.72 310.9,291.72"/>
<polyline class="g" points="55.1,326.32 63.1,320.54 310.9,320.54"/>
<polyline class="g" points="55.1,354.88 63.1,349.36 310.9,349.36"/>
<polyline class="g" points="55.1,383.44 63.1,378.18 310.9,378.18"/>
<polyline class="g" points="55.1,412 63.1,407 310.9,407"/>
<polygon class="g" points="55.1,412 63.1,407 310.9,407 303.8,412"/>
<line class="g" x1="55.1" y1="269.2" x2="55.1" y2="412"/>
<path class="tk" d="M55.1,269.2 h-1.8 M55.1,297.76 h-1.8 M55.1,326.32 h-1.8 M55.1,354.88 h-1.8 M55.1,383.44 h-1.8 M55.1,412 h-1.8"/>
<path class="tk" d="M55.1,412 v1.8 M64.31,412 v1.8 M73.52,412 v1.8 M82.73,412 v1.8 M91.94,412 v1.8 M101.16,412 v1.8 M110.37,412 v1.8 M119.58,412 v1.8 M128.79,412 v1.8 M138,412 v1.8 M147.21,412 v1.8 M156.42,412 v1.8 M165.63,412 v1.8 M174.84,412 v1.8 M184.06,412 v1.8 M193.27,412 v1.8 M202.48,412 v1.8 M211.69,412 v1.8 M220.9,412 v1.8 M230.11,412 v1.8 M239.32,412 v1.8 M248.53,412 v1.8 M257.74,412 v1.8 M266.96,412 v1.8 M276.17,412 v1.8 M285.38,412 v1.8 M294.59,412 v1.8 M303.8,412 v1.8"/>
<text x="48.4" y="272.01" font-size="7.1" text-anchor="end">100000</text>
<text x="48.4" y="300.57" font-size="7.1" text-anchor="end">80000</text>
<text x="48.4" y="329.13" font-size="7.1" text-anchor="end">60000</text>
<text x="48.4" y="357.69" font-size="7.1" text-anchor="end">40000</text>
<text x="48.4" y="386.25" font-size="7.1" text-anchor="end">20000</text>
<text x="48.4" y="414.81" font-size="7.1" text-anchor="end">0</text>
<path class="bar" d="M58.7,384.27 L58.7,409.67 A4.3,1.3 -5 0 0 67.3,408.93 L67.3,383.53 A4.3,1.3 -5 0 0 58.7,384.27Z"/>
<ellipse class="top" cx="63" cy="383.9" rx="4.05" ry="1.2" transform="rotate(-5 63 383.9)"/>
<path class="bar" d="M67.95,379.17 L67.95,409.67 A4.3,1.3 -5 0 0 76.55,408.93 L76.55,378.43 A4.3,1.3 -5 0 0 67.95,379.17Z"/>
<ellipse class="top" cx="72.25" cy="378.8" rx="4.05" ry="1.2" transform="rotate(-5 72.25 378.8)"/>
<path class="bar" d="M77.2,383.07 L77.2,409.67 A4.3,1.3 -5 0 0 85.8,408.93 L85.8,382.33 A4.3,1.3 -5 0 0 77.2,383.07Z"/>
<ellipse class="top" cx="81.5" cy="382.7" rx="4.05" ry="1.2" transform="rotate(-5 81.5 382.7)"/>
<path class="bar" d="M86.45,388.57 L86.45,409.67 A4.3,1.3 -5 0 0 95.05,408.93 L95.05,387.83 A4.3,1.3 -5 0 0 86.45,388.57Z"/>
<ellipse class="top" cx="90.75" cy="388.2" rx="4.05" ry="1.2" transform="rotate(-5 90.75 388.2)"/>
<path class="bar" d="M95.7,373.37 L95.7,409.67 A4.3,1.3 -5 0 0 104.3,408.93 L104.3,372.63 A4.3,1.3 -5 0 0 95.7,373.37Z"/>
<ellipse class="top" cx="100" cy="373" rx="4.05" ry="1.2" transform="rotate(-5 100 373)"/>
<path class="bar" d="M104.95,368.57 L104.95,409.67 A4.3,1.3 -5 0 0 113.55,408.93 L113.55,367.83 A4.3,1.3 -5 0 0 104.95,368.57Z"/>
<ellipse class="top" cx="109.25" cy="368.2" rx="4.05" ry="1.2" transform="rotate(-5 109.25 368.2)"/>
<path class="bar" d="M114.2,392.57 L114.2,409.67 A4.3,1.3 -5 0 0 122.8,408.93 L122.8,391.83 A4.3,1.3 -5 0 0 114.2,392.57Z"/>
<ellipse class="top" cx="118.5" cy="392.2" rx="4.05" ry="1.2" transform="rotate(-5 118.5 392.2)"/>
<path class="bar" d="M123.45,355.97 L123.45,409.67 A4.3,1.3 -5 0 0 132.05,408.93 L132.05,355.23 A4.3,1.3 -5 0 0 123.45,355.97Z"/>
<ellipse class="top" cx="127.75" cy="355.6" rx="4.05" ry="1.2" transform="rotate(-5 127.75 355.6)"/>
<path class="bar" d="M132.7,385.87 L132.7,409.67 A4.3,1.3 -5 0 0 141.3,408.93 L141.3,385.13 A4.3,1.3 -5 0 0 132.7,385.87Z"/>
<ellipse class="top" cx="137" cy="385.5" rx="4.05" ry="1.2" transform="rotate(-5 137 385.5)"/>
<ellipse class="flat" cx="146.25" cy="408.94" rx="4" ry="1.36" transform="rotate(-3 146.25 408.94)"/>
<path class="bar" d="M151.2,400.07 L151.2,409.67 A4.3,1.3 -5 0 0 159.8,408.93 L159.8,399.33 A4.3,1.3 -5 0 0 151.2,400.07Z"/>
<ellipse class="top" cx="155.5" cy="399.7" rx="4.05" ry="1.2" transform="rotate(-5 155.5 399.7)"/>
<path class="bar" d="M160.45,396.87 L160.45,409.67 A4.3,1.3 -5 0 0 169.05,408.93 L169.05,396.13 A4.3,1.3 -5 0 0 160.45,396.87Z"/>
<ellipse class="top" cx="164.75" cy="396.5" rx="4.05" ry="1.2" transform="rotate(-5 164.75 396.5)"/>
<ellipse class="flat" cx="174" cy="408.7" rx="4" ry="1.6" transform="rotate(-3 174 408.7)"/>
<ellipse class="flat" cx="183.25" cy="408.94" rx="4" ry="1.36" transform="rotate(-3 183.25 408.94)"/>
<path class="bar" d="M188.2,405.97 L188.2,409.67 A4.3,1.3 -5 0 0 196.8,408.93 L196.8,405.22 A4.3,1.3 -5 0 0 188.2,405.97Z"/>
<ellipse class="top" cx="192.5" cy="405.6" rx="4.05" ry="1.2" transform="rotate(-5 192.5 405.6)"/>
<path class="bar" d="M197.45,408.35 L197.45,409.67 A4.3,1.3 -5 0 0 206.05,408.93 L206.05,407.6 A4.3,1.3 -5 0 0 197.45,408.35Z"/>
<ellipse class="top" cx="201.75" cy="407.97" rx="4.05" ry="1.2" transform="rotate(-5 201.75 407.97)"/>
<path class="bar" d="M206.7,405.11 L206.7,409.67 A4.3,1.3 -5 0 0 215.3,408.93 L215.3,404.36 A4.3,1.3 -5 0 0 206.7,405.11Z"/>
<ellipse class="top" cx="211" cy="404.73" rx="4.05" ry="1.2" transform="rotate(-5 211 404.73)"/>
<ellipse class="flat" cx="220.25" cy="408.89" rx="4" ry="1.41" transform="rotate(-3 220.25 408.89)"/>
<path class="bar" d="M225.2,407.27 L225.2,409.67 A4.3,1.3 -5 0 0 233.8,408.93 L233.8,406.52 A4.3,1.3 -5 0 0 225.2,407.27Z"/>
<ellipse class="top" cx="229.5" cy="406.89" rx="4.05" ry="1.2" transform="rotate(-5 229.5 406.89)"/>
<ellipse class="flat" cx="238.75" cy="408.89" rx="4" ry="1.41" transform="rotate(-3 238.75 408.89)"/>
<path class="bar" d="M243.7,384.27 L243.7,409.67 A4.3,1.3 -5 0 0 252.3,408.93 L252.3,383.53 A4.3,1.3 -5 0 0 243.7,384.27Z"/>
<ellipse class="top" cx="248" cy="383.9" rx="4.05" ry="1.2" transform="rotate(-5 248 383.9)"/>
<path class="bar" d="M252.95,392.57 L252.95,409.67 A4.3,1.3 -5 0 0 261.55,408.93 L261.55,391.83 A4.3,1.3 -5 0 0 252.95,392.57Z"/>
<ellipse class="top" cx="257.25" cy="392.2" rx="4.05" ry="1.2" transform="rotate(-5 257.25 392.2)"/>
<path class="bar" d="M262.2,405.65 L262.2,409.67 A4.3,1.3 -5 0 0 270.8,408.93 L270.8,404.9 A4.3,1.3 -5 0 0 262.2,405.65Z"/>
<ellipse class="top" cx="266.5" cy="405.27" rx="4.05" ry="1.2" transform="rotate(-5 266.5 405.27)"/>
<path class="bar" d="M271.45,398.07 L271.45,409.67 A4.3,1.3 -5 0 0 280.05,408.93 L280.05,397.33 A4.3,1.3 -5 0 0 271.45,398.07Z"/>
<ellipse class="top" cx="275.75" cy="397.7" rx="4.05" ry="1.2" transform="rotate(-5 275.75 397.7)"/>
<ellipse class="flat" cx="285" cy="409.15" rx="4" ry="1.15" transform="rotate(-3 285 409.15)"/>
<ellipse class="flat" cx="294.25" cy="409.15" rx="4" ry="1.15" transform="rotate(-3 294.25 409.15)"/>
<ellipse class="flat" cx="303.5" cy="409.15" rx="4" ry="1.15" transform="rotate(-3 303.5 409.15)"/>
<text transform="translate(58.21,422.5) rotate(-45)" font-size="7.3" text-anchor="end" y="2.63" stroke-width="0.37">0.6</text>
<text transform="translate(76.63,422.5) rotate(-45)" font-size="7.3" text-anchor="end" y="2.63" stroke-width="0.37">2.6</text>
<text transform="translate(95.05,422.5) rotate(-45)" font-size="7.3" text-anchor="end" y="2.63" stroke-width="0.37">5.9</text>
<text transform="translate(113.47,422.5) rotate(-45)" font-size="7.3" text-anchor="end" y="2.63" stroke-width="0.37">10.1</text>
<text transform="translate(131.89,422.5) rotate(-45)" font-size="7.3" text-anchor="end" y="2.63" stroke-width="0.37">12.0</text>
<text transform="translate(150.32,422.5) rotate(-45)" font-size="7.3" text-anchor="end" y="2.63" stroke-width="0.37">15.3</text>
<text transform="translate(168.74,422.5) rotate(-45)" font-size="7.3" text-anchor="end" y="2.63" stroke-width="0.37">18.7</text>
<text transform="translate(187.16,422.5) rotate(-45)" font-size="7.3" text-anchor="end" y="2.63" stroke-width="0.37">22.0</text>
<text transform="translate(205.58,422.5) rotate(-45)" font-size="7.3" text-anchor="end" y="2.63" stroke-width="0.37">26.8</text>
<text transform="translate(224.01,422.5) rotate(-45)" font-size="7.3" text-anchor="end" y="2.63" stroke-width="0.37">31.5</text>
<text transform="translate(242.43,422.5) rotate(-45)" font-size="7.3" text-anchor="end" y="2.63" stroke-width="0.37">34.8</text>
<text transform="translate(260.85,422.5) rotate(-45)" font-size="7.3" text-anchor="end" y="2.63" stroke-width="0.37">36.8</text>
<text transform="translate(279.27,422.5) rotate(-45)" font-size="7.3" text-anchor="end" y="2.63" stroke-width="0.37">39.6</text>
<text transform="translate(297.69,422.5) rotate(-45)" font-size="7.3" text-anchor="end" y="2.63" stroke-width="0.37">41.5</text>
<rect class="lg" x="219.8" y="308" width="3.8" height="4.1"/>
<text x="226.1" y="312.99" font-size="7.3" textLength="66.5" lengthAdjust="spacingAndGlyphs">Employment density</text>
<text x="302.9" y="428.54" font-size="5.88" textLength="40.6" lengthAdjust="spacingAndGlyphs">Distance（km)</text>
<text x="18.7" y="259.65" font-size="8.15" textLength="44.4" lengthAdjust="spacingAndGlyphs">Pop.per km²</text>
<text class="cap" x="39" y="470.7" textLength="261" lengthAdjust="spacingAndGlyphs">(d).Tiananmen-Changping direction</text>
</g>
<g id="panel-e">
<polyline class="g" points="391.6,267.9 399.6,261.7 647.9,261.7"/>
<polyline class="g" points="391.6,296.78 399.6,290.7 647.9,290.7"/>
<polyline class="g" points="391.6,325.66 399.6,319.7 647.9,319.7"/>
<polyline class="g" points="391.6,354.54 399.6,348.7 647.9,348.7"/>
<polyline class="g" points="391.6,383.42 399.6,377.7 647.9,377.7"/>
<polyline class="g" points="391.6,412.3 399.6,406.7 647.9,406.7"/>
<polygon class="g" points="391.6,412.3 399.6,406.7 647.9,406.7 640.8,412.3"/>
<line class="g" x1="391.6" y1="267.9" x2="391.6" y2="412.3"/>
<path class="tk" d="M391.6,267.9 h-1.8 M391.6,296.78 h-1.8 M391.6,325.66 h-1.8 M391.6,354.54 h-1.8 M391.6,383.42 h-1.8 M391.6,412.3 h-1.8"/>
<path class="tk" d="M391.6,412.3 v1.8 M401.57,412.3 v1.8 M411.54,412.3 v1.8 M421.5,412.3 v1.8 M431.47,412.3 v1.8 M441.44,412.3 v1.8 M451.41,412.3 v1.8 M461.38,412.3 v1.8 M471.34,412.3 v1.8 M481.31,412.3 v1.8 M491.28,412.3 v1.8 M501.25,412.3 v1.8 M511.22,412.3 v1.8 M521.18,412.3 v1.8 M531.15,412.3 v1.8 M541.12,412.3 v1.8 M551.09,412.3 v1.8 M561.06,412.3 v1.8 M571.02,412.3 v1.8 M580.99,412.3 v1.8 M590.96,412.3 v1.8 M600.93,412.3 v1.8 M610.9,412.3 v1.8 M620.86,412.3 v1.8 M630.83,412.3 v1.8 M640.8,412.3 v1.8"/>
<text x="383.8" y="270.71" font-size="7.1" text-anchor="end">100000</text>
<text x="383.8" y="299.59" font-size="7.1" text-anchor="end">80000</text>
<text x="383.8" y="328.47" font-size="7.1" text-anchor="end">60000</text>
<text x="383.8" y="357.35" font-size="7.1" text-anchor="end">40000</text>
<text x="383.8" y="386.23" font-size="7.1" text-anchor="end">20000</text>
<text x="383.8" y="415.11" font-size="7.1" text-anchor="end">0</text>
<path class="bar" d="M396.2,384.29 L396.2,409.59 A4.5,1.4 -5 0 0 405.2,408.81 L405.2,383.51 A4.5,1.4 -5 0 0 396.2,384.29Z"/>
<ellipse class="top" cx="400.7" cy="383.9" rx="4.25" ry="1.3" transform="rotate(-5 400.7 383.9)"/>
<path class="bar" d="M406.15,292.89 L406.15,409.59 A4.5,1.4 -5 0 0 415.15,408.81 L415.15,292.11 A4.5,1.4 -5 0 0 406.15,292.89Z"/>
<ellipse class="top" cx="410.65" cy="292.5" rx="4.25" ry="1.3" transform="rotate(-5 410.65 292.5)"/>
<path class="bar" d="M416.1,370.09 L416.1,409.59 A4.5,1.4 -5 0 0 425.1,408.81 L425.1,369.31 A4.5,1.4 -5 0 0 416.1,370.09Z"/>
<ellipse class="top" cx="420.6" cy="369.7" rx="4.25" ry="1.3" transform="rotate(-5 420.6 369.7)"/>
<path class="bar" d="M426.05,346.29 L426.05,409.59 A4.5,1.4 -5 0 0 435.05,408.81 L435.05,345.51 A4.5,1.4 -5 0 0 426.05,346.29Z"/>
<ellipse class="top" cx="430.55" cy="345.9" rx="4.25" ry="1.3" transform="rotate(-5 430.55 345.9)"/>
<path class="bar" d="M436,372.69 L436,409.59 A4.5,1.4 -5 0 0 445,408.81 L445,371.91 A4.5,1.4 -5 0 0 436,372.69Z"/>
<ellipse class="top" cx="440.5" cy="372.3" rx="4.25" ry="1.3" transform="rotate(-5 440.5 372.3)"/>
<path class="bar" d="M445.95,357.69 L445.95,409.59 A4.5,1.4 -5 0 0 454.95,408.81 L454.95,356.91 A4.5,1.4 -5 0 0 445.95,357.69Z"/>
<ellipse class="top" cx="450.45" cy="357.3" rx="4.25" ry="1.3" transform="rotate(-5 450.45 357.3)"/>
<path class="bar" d="M455.9,342.49 L455.9,409.59 A4.5,1.4 -5 0 0 464.9,408.81 L464.9,341.71 A4.5,1.4 -5 0 0 455.9,342.49Z"/>
<ellipse class="top" cx="460.4" cy="342.1" rx="4.25" ry="1.3" transform="rotate(-5 460.4 342.1)"/>
<path class="bar" d="M465.85,319.59 L465.85,409.59 A4.5,1.4 -5 0 0 474.85,408.81 L474.85,318.81 A4.5,1.4 -5 0 0 465.85,319.59Z"/>
<ellipse class="top" cx="470.35" cy="319.2" rx="4.25" ry="1.3" transform="rotate(-5 470.35 319.2)"/>
<path class="bar" d="M475.8,398.09 L475.8,409.59 A4.5,1.4 -5 0 0 484.8,408.81 L484.8,397.31 A4.5,1.4 -5 0 0 475.8,398.09Z"/>
<ellipse class="top" cx="480.3" cy="397.7" rx="4.25" ry="1.3" transform="rotate(-5 480.3 397.7)"/>
<path class="bar" d="M485.75,371.69 L485.75,409.59 A4.5,1.4 -5 0 0 494.75,408.81 L494.75,370.91 A4.5,1.4 -5 0 0 485.75,371.69Z"/>
<ellipse class="top" cx="490.25" cy="371.3" rx="4.25" ry="1.3" transform="rotate(-5 490.25 371.3)"/>
<path class="bar" d="M495.7,407.55 L495.7,409.59 A4.5,1.4 -5 0 0 504.7,408.81 L504.7,406.76 A4.5,1.4 -5 0 0 495.7,407.55Z"/>
<ellipse class="top" cx="500.2" cy="407.16" rx="4.25" ry="1.3" transform="rotate(-5 500.2 407.16)"/>
<ellipse class="flat" cx="510.15" cy="408.77" rx="4.2" ry="1.53" transform="rotate(-3 510.15 408.77)"/>
<ellipse class="flat" cx="520.1" cy="409.15" rx="4.2" ry="1.15" transform="rotate(-3 520.1 409.15)"/>
<ellipse class="flat" cx="530.05" cy="409.15" rx="4.2" ry="1.15" transform="rotate(-3 530.05 409.15)"/>
<ellipse class="flat" cx="540" cy="409.15" rx="4.2" ry="1.15" transform="rotate(-3 540 409.15)"/>
<path class="bar" d="M545.45,403.31 L545.45,409.59 A4.5,1.4 -5 0 0 554.45,408.81 L554.45,402.53 A4.5,1.4 -5 0 0 545.45,403.31Z"/>
<ellipse class="top" cx="549.95" cy="402.92" rx="4.25" ry="1.3" transform="rotate(-5 549.95 402.92)"/>
<ellipse class="flat" cx="559.9" cy="409.15" rx="4.2" ry="1.15" transform="rotate(-3 559.9 409.15)"/>
<ellipse class="flat" cx="569.85" cy="409.15" rx="4.2" ry="1.15" transform="rotate(-3 569.85 409.15)"/>
<ellipse class="flat" cx="579.8" cy="409.15" rx="4.2" ry="1.15" transform="rotate(-3 579.8 409.15)"/>
<path class="bar" d="M585.25,407.87 L585.25,409.59 A4.5,1.4 -5 0 0 594.25,408.81 L594.25,407.09 A4.5,1.4 -5 0 0 585.25,407.87Z"/>
<ellipse class="top" cx="589.75" cy="407.48" rx="4.25" ry="1.3" transform="rotate(-5 589.75 407.48)"/>
<path class="bar" d="M595.2,399.29 L595.2,409.59 A4.5,1.4 -5 0 0 604.2,408.81 L604.2,398.51 A4.5,1.4 -5 0 0 595.2,399.29Z"/>
<ellipse class="top" cx="599.7" cy="398.9" rx="4.25" ry="1.3" transform="rotate(-5 599.7 398.9)"/>
<path class="bar" d="M605.15,394.79 L605.15,409.59 A4.5,1.4 -5 0 0 614.15,408.81 L614.15,394.01 A4.5,1.4 -5 0 0 605.15,394.79Z"/>
<ellipse class="top" cx="609.65" cy="394.4" rx="4.25" ry="1.3" transform="rotate(-5 609.65 394.4)"/>
<path class="bar" d="M615.1,380.19 L615.1,409.59 A4.5,1.4 -5 0 0 624.1,408.81 L624.1,379.41 A4.5,1.4 -5 0 0 615.1,380.19Z"/>
<ellipse class="top" cx="619.6" cy="379.8" rx="4.25" ry="1.3" transform="rotate(-5 619.6 379.8)"/>
<ellipse class="flat" cx="629.55" cy="409.15" rx="4.2" ry="1.15" transform="rotate(-3 629.55 409.15)"/>
<ellipse class="flat" cx="639.5" cy="409.15" rx="4.2" ry="1.15" transform="rotate(-3 639.5 409.15)"/>
<text transform="translate(395.08,422.8) rotate(-45)" font-size="7.3" text-anchor="end" y="2.63" stroke-width="0.37">0.6</text>
<text transform="translate(415.02,422.8) rotate(-45)" font-size="7.3" text-anchor="end" y="2.63" stroke-width="0.37">1.9</text>
<text transform="translate(434.96,422.8) rotate(-45)" font-size="7.3" text-anchor="end" y="2.63" stroke-width="0.37">3.8</text>
<text transform="translate(454.89,422.8) rotate(-45)" font-size="7.3" text-anchor="end" y="2.63" stroke-width="0.37">5.8</text>
<text transform="translate(474.83,422.8) rotate(-45)" font-size="7.3" text-anchor="end" y="2.63" stroke-width="0.37">7.9</text>
<text transform="translate(494.76,422.8) rotate(-45)" font-size="7.3" text-anchor="end" y="2.63" stroke-width="0.37">13.0</text>
<text transform="translate(514.7,422.8) rotate(-45)" font-size="7.3" text-anchor="end" y="2.63" stroke-width="0.37">16.3</text>
<text transform="translate(534.64,422.8) rotate(-45)" font-size="7.3" text-anchor="end" y="2.63" stroke-width="0.37">20.5</text>
<text transform="translate(554.57,422.8) rotate(-45)" font-size="7.3" text-anchor="end" y="2.63" stroke-width="0.37">24.7</text>
<text transform="translate(574.51,422.8) rotate(-45)" font-size="7.3" text-anchor="end" y="2.63" stroke-width="0.37">29.0</text>
<text transform="translate(594.44,422.8) rotate(-45)" font-size="7.3" text-anchor="end" y="2.63" stroke-width="0.37">31.1</text>
<text transform="translate(614.38,422.8) rotate(-45)" font-size="7.3" text-anchor="end" y="2.63" stroke-width="0.37">33.2</text>
<text transform="translate(634.32,422.8) rotate(-45)" font-size="7.3" text-anchor="end" y="2.63" stroke-width="0.37">35.3</text>
<rect class="lg" x="561.1" y="308.1" width="4" height="4"/>
<text x="567.8" y="313.39" font-size="7.3" textLength="65.1" lengthAdjust="spacingAndGlyphs">Employment density</text>
<text x="639.9" y="428.49" font-size="5.74" textLength="39.6" lengthAdjust="spacingAndGlyphs">Distance（km)</text>
<text x="359" y="261.9" font-size="7.99" textLength="43.5" lengthAdjust="spacingAndGlyphs">Pop.per km²</text>
<text class="cap" x="384" y="470.7" textLength="225.5" lengthAdjust="spacingAndGlyphs">(e).Tiananmen-Renhe direction</text>
</g>
<g id="panel-f">
<polyline class="g" points="730.6,271.7 738.1,266.2 981.1,266.2"/>
<polyline class="g" points="730.6,299.92 738.1,294.46 981.1,294.46"/>
<polyline class="g" points="730.6,328.14 738.1,322.72 981.1,322.72"/>
<polyline class="g" points="730.6,356.36 738.1,350.98 981.1,350.98"/>
<polyline class="g" points="730.6,384.58 738.1,379.24 981.1,379.24"/>
<polyline class="g" points="730.6,412.8 738.1,407.5 981.1,407.5"/>
<polygon class="g" points="730.6,412.8 738.1,407.5 981.1,407.5 974.1,412.8"/>
<line class="g" x1="730.6" y1="271.7" x2="730.6" y2="412.8"/>
<path class="tk" d="M730.6,271.7 h-1.8 M730.6,299.92 h-1.8 M730.6,328.14 h-1.8 M730.6,356.36 h-1.8 M730.6,384.58 h-1.8 M730.6,412.8 h-1.8"/>
<path class="tk" d="M730.6,412.8 v1.8 M739.62,412.8 v1.8 M748.64,412.8 v1.8 M757.66,412.8 v1.8 M766.67,412.8 v1.8 M775.69,412.8 v1.8 M784.71,412.8 v1.8 M793.73,412.8 v1.8 M802.75,412.8 v1.8 M811.77,412.8 v1.8 M820.79,412.8 v1.8 M829.8,412.8 v1.8 M838.82,412.8 v1.8 M847.84,412.8 v1.8 M856.86,412.8 v1.8 M865.88,412.8 v1.8 M874.9,412.8 v1.8 M883.91,412.8 v1.8 M892.93,412.8 v1.8 M901.95,412.8 v1.8 M910.97,412.8 v1.8 M919.99,412.8 v1.8 M929.01,412.8 v1.8 M938.03,412.8 v1.8 M947.04,412.8 v1.8 M956.06,412.8 v1.8 M965.08,412.8 v1.8 M974.1,412.8 v1.8"/>
<text x="723.1" y="274.51" font-size="7.1" text-anchor="end">100000</text>
<text x="723.1" y="302.73" font-size="7.1" text-anchor="end">80000</text>
<text x="723.1" y="330.95" font-size="7.1" text-anchor="end">60000</text>
<text x="723.1" y="359.17" font-size="7.1" text-anchor="end">40000</text>
<text x="723.1" y="387.39" font-size="7.1" text-anchor="end">20000</text>
<text x="723.1" y="415.61" font-size="7.1" text-anchor="end">0</text>
<path class="bar" d="M734.3,385.57 L734.3,410.35 A4.25,1.33 -5 0 0 742.8,409.6 L742.8,384.83 A4.25,1.33 -5 0 0 734.3,385.57Z"/>
<ellipse class="top" cx="738.55" cy="385.2" rx="4" ry="1.23" transform="rotate(-5 738.55 385.2)"/>
<path class="bar" d="M743.32,381.37 L743.32,410.35 A4.25,1.33 -5 0 0 751.82,409.6 L751.82,380.63 A4.25,1.33 -5 0 0 743.32,381.37Z"/>
<ellipse class="top" cx="747.57" cy="381" rx="4" ry="1.23" transform="rotate(-5 747.57 381)"/>
<path class="bar" d="M752.34,371.67 L752.34,410.35 A4.25,1.33 -5 0 0 760.84,409.6 L760.84,370.93 A4.25,1.33 -5 0 0 752.34,371.67Z"/>
<ellipse class="top" cx="756.59" cy="371.3" rx="4" ry="1.23" transform="rotate(-5 756.59 371.3)"/>
<path class="bar" d="M761.36,367.57 L761.36,410.35 A4.25,1.33 -5 0 0 769.86,409.6 L769.86,366.83 A4.25,1.33 -5 0 0 761.36,367.57Z"/>
<ellipse class="top" cx="765.61" cy="367.2" rx="4" ry="1.23" transform="rotate(-5 765.61 367.2)"/>
<path class="bar" d="M770.38,363.47 L770.38,410.35 A4.25,1.33 -5 0 0 778.88,409.6 L778.88,362.73 A4.25,1.33 -5 0 0 770.38,363.47Z"/>
<ellipse class="top" cx="774.63" cy="363.1" rx="4" ry="1.23" transform="rotate(-5 774.63 363.1)"/>
<path class="bar" d="M779.4,371.87 L779.4,410.35 A4.25,1.33 -5 0 0 787.9,409.6 L787.9,371.13 A4.25,1.33 -5 0 0 779.4,371.87Z"/>
<ellipse class="top" cx="783.65" cy="371.5" rx="4" ry="1.23" transform="rotate(-5 783.65 371.5)"/>
<path class="bar" d="M788.42,398.57 L788.42,410.35 A4.25,1.33 -5 0 0 796.92,409.6 L796.92,397.83 A4.25,1.33 -5 0 0 788.42,398.57Z"/>
<ellipse class="top" cx="792.67" cy="398.2" rx="4" ry="1.23" transform="rotate(-5 792.67 398.2)"/>
<path class="bar" d="M797.44,405.92 L797.44,410.35 A4.25,1.33 -5 0 0 805.94,409.6 L805.94,405.18 A4.25,1.33 -5 0 0 797.44,405.92Z"/>
<ellipse class="top" cx="801.69" cy="405.55" rx="4" ry="1.23" transform="rotate(-5 801.69 405.55)"/>
<path class="bar" d="M806.46,399.47 L806.46,410.35 A4.25,1.33 -5 0 0 814.96,409.6 L814.96,398.73 A4.25,1.33 -5 0 0 806.46,399.47Z"/>
<ellipse class="top" cx="810.71" cy="399.1" rx="4" ry="1.23" transform="rotate(-5 810.71 399.1)"/>
<path class="bar" d="M815.48,403.22 L815.48,410.35 A4.25,1.33 -5 0 0 823.98,409.6 L823.98,402.48 A4.25,1.33 -5 0 0 815.48,403.22Z"/>
<ellipse class="top" cx="819.73" cy="402.85" rx="4" ry="1.23" transform="rotate(-5 819.73 402.85)"/>
<path class="bar" d="M824.5,393.87 L824.5,410.35 A4.25,1.33 -5 0 0 833,409.6 L833,393.13 A4.25,1.33 -5 0 0 824.5,393.87Z"/>
<ellipse class="top" cx="828.75" cy="393.5" rx="4" ry="1.23" transform="rotate(-5 828.75 393.5)"/>
<path class="bar" d="M833.52,391.77 L833.52,410.35 A4.25,1.33 -5 0 0 842.02,409.6 L842.02,391.03 A4.25,1.33 -5 0 0 833.52,391.77Z"/>
<ellipse class="top" cx="837.77" cy="391.4" rx="4" ry="1.23" transform="rotate(-5 837.77 391.4)"/>
<ellipse class="flat" cx="846.79" cy="409.76" rx="3.95" ry="1.24" transform="rotate(-3 846.79 409.76)"/>
<ellipse class="flat" cx="855.81" cy="409.85" rx="3.95" ry="1.15" transform="rotate(-3 855.81 409.85)"/>
<ellipse class="flat" cx="864.83" cy="409.51" rx="3.95" ry="1.49" transform="rotate(-3 864.83 409.51)"/>
<ellipse class="flat" cx="873.85" cy="409.85" rx="3.95" ry="1.15" transform="rotate(-3 873.85 409.85)"/>
<ellipse class="flat" cx="882.87" cy="409.85" rx="3.95" ry="1.15" transform="rotate(-3 882.87 409.85)"/>
<ellipse class="flat" cx="891.89" cy="409.66" rx="3.95" ry="1.34" transform="rotate(-3 891.89 409.66)"/>
<path class="bar" d="M896.66,398.07 L896.66,410.35 A4.25,1.33 -5 0 0 905.16,409.6 L905.16,397.33 A4.25,1.33 -5 0 0 896.66,398.07Z"/>
<ellipse class="top" cx="900.91" cy="397.7" rx="4" ry="1.23" transform="rotate(-5 900.91 397.7)"/>
<ellipse class="flat" cx="909.93" cy="409.66" rx="3.95" ry="1.34" transform="rotate(-3 909.93 409.66)"/>
<path class="bar" d="M914.7,398.07 L914.7,410.35 A4.25,1.33 -5 0 0 923.2,409.6 L923.2,397.33 A4.25,1.33 -5 0 0 914.7,398.07Z"/>
<ellipse class="top" cx="918.95" cy="397.7" rx="4" ry="1.23" transform="rotate(-5 918.95 397.7)"/>
<path class="bar" d="M923.72,399.27 L923.72,410.35 A4.25,1.33 -5 0 0 932.22,409.6 L932.22,398.53 A4.25,1.33 -5 0 0 923.72,399.27Z"/>
<ellipse class="top" cx="927.97" cy="398.9" rx="4" ry="1.23" transform="rotate(-5 927.97 398.9)"/>
<path class="bar" d="M932.74,403.22 L932.74,410.35 A4.25,1.33 -5 0 0 941.24,409.6 L941.24,402.48 A4.25,1.33 -5 0 0 932.74,403.22Z"/>
<ellipse class="top" cx="936.99" cy="402.85" rx="4" ry="1.23" transform="rotate(-5 936.99 402.85)"/>
<path class="bar" d="M941.76,402.03 L941.76,410.35 A4.25,1.33 -5 0 0 950.26,409.6 L950.26,401.29 A4.25,1.33 -5 0 0 941.76,402.03Z"/>
<ellipse class="top" cx="946.01" cy="401.66" rx="4" ry="1.23" transform="rotate(-5 946.01 401.66)"/>
<ellipse class="flat" cx="955.03" cy="409.85" rx="3.95" ry="1.15" transform="rotate(-3 955.03 409.85)"/>
<ellipse class="flat" cx="964.05" cy="409.85" rx="3.95" ry="1.15" transform="rotate(-3 964.05 409.85)"/>
<ellipse class="flat" cx="973.07" cy="409.85" rx="3.95" ry="1.15" transform="rotate(-3 973.07 409.85)"/>
<text transform="translate(733.61,423.3) rotate(-45)" font-size="7.3" text-anchor="end" y="2.63" stroke-width="0.37">0.6</text>
<text transform="translate(751.65,423.3) rotate(-45)" font-size="7.3" text-anchor="end" y="2.63" stroke-width="0.37">1.9</text>
<text transform="translate(769.68,423.3) rotate(-45)" font-size="7.3" text-anchor="end" y="2.63" stroke-width="0.37">4.0</text>
<text transform="translate(787.72,423.3) rotate(-45)" font-size="7.3" text-anchor="end" y="2.63" stroke-width="0.37">7.3</text>
<text transform="translate(805.76,423.3) rotate(-45)" font-size="7.3" text-anchor="end" y="2.63" stroke-width="0.37">9.4</text>
<text transform="translate(823.79,423.3) rotate(-45)" font-size="7.3" text-anchor="end" y="2.63" stroke-width="0.37">11.5</text>
<text transform="translate(841.83,423.3) rotate(-45)" font-size="7.3" text-anchor="end" y="2.63" stroke-width="0.37">15.7</text>
<text transform="translate(859.87,423.3) rotate(-45)" font-size="7.3" text-anchor="end" y="2.63" stroke-width="0.37">23.2</text>
<text transform="translate(877.91,423.3) rotate(-45)" font-size="7.3" text-anchor="end" y="2.63" stroke-width="0.37">25.3</text>
<text transform="translate(895.94,423.3) rotate(-45)" font-size="7.3" text-anchor="end" y="2.63" stroke-width="0.37">27.4</text>
<text transform="translate(913.98,423.3) rotate(-45)" font-size="7.3" text-anchor="end" y="2.63" stroke-width="0.37">29.5</text>
<text transform="translate(932.02,423.3) rotate(-45)" font-size="7.3" text-anchor="end" y="2.63" stroke-width="0.37">31.6</text>
<text transform="translate(950.05,423.3) rotate(-45)" font-size="7.3" text-anchor="end" y="2.63" stroke-width="0.37">34.8</text>
<text transform="translate(968.09,423.3) rotate(-45)" font-size="7.3" text-anchor="end" y="2.63" stroke-width="0.37">38.0</text>
<rect class="lg" x="891.1" y="310.5" width="4.2" height="4.1"/>
<text x="897.3" y="315.49" font-size="7.3" textLength="64.6" lengthAdjust="spacingAndGlyphs">Employment density</text>
<text x="971.9" y="428.27" font-size="5.68" textLength="39.2" lengthAdjust="spacingAndGlyphs">Distance（km)</text>
<text x="695.5" y="264.07" font-size="7.91" textLength="43.1" lengthAdjust="spacingAndGlyphs">Pop.per km²</text>
<text class="cap" x="722" y="470.7" textLength="251" lengthAdjust="spacingAndGlyphs">(f).Tiananmen-Gongchen direction</text>
</g>
<g id="panel-g">
<polyline class="g" points="53.4,511.4 62.1,504.7 313.8,504.7"/>
<polyline class="g" points="53.4,538.42 62.1,531.82 313.8,531.82"/>
<polyline class="g" points="53.4,565.44 62.1,558.94 313.8,558.94"/>
<polyline class="g" points="53.4,592.46 62.1,586.06 313.8,586.06"/>
<polyline class="g" points="53.4,619.48 62.1,613.18 313.8,613.18"/>
<polyline class="g" points="53.4,646.5 62.1,640.3 313.8,640.3"/>
<polygon class="g" points="53.4,646.5 62.1,640.3 313.8,640.3 305.4,646.5"/>
<line class="g" x1="53.4" y1="511.4" x2="53.4" y2="646.5"/>
<path class="tk" d="M53.4,511.4 h-1.8 M53.4,538.42 h-1.8 M53.4,565.44 h-1.8 M53.4,592.46 h-1.8 M53.4,619.48 h-1.8 M53.4,646.5 h-1.8"/>
<path class="tk" d="M53.4,646.5 v1.8 M64.36,646.5 v1.8 M75.31,646.5 v1.8 M86.27,646.5 v1.8 M97.23,646.5 v1.8 M108.18,646.5 v1.8 M119.14,646.5 v1.8 M130.1,646.5 v1.8 M141.05,646.5 v1.8 M152.01,646.5 v1.8 M162.97,646.5 v1.8 M173.92,646.5 v1.8 M184.88,646.5 v1.8 M195.83,646.5 v1.8 M206.79,646.5 v1.8 M217.75,646.5 v1.8 M228.7,646.5 v1.8 M239.66,646.5 v1.8 M250.62,646.5 v1.8 M261.57,646.5 v1.8 M272.53,646.5 v1.8 M283.49,646.5 v1.8 M294.44,646.5 v1.8 M305.4,646.5 v1.8"/>
<text x="45.4" y="514.21" font-size="7.1" text-anchor="end">100000</text>
<text x="45.4" y="541.23" font-size="7.1" text-anchor="end">80000</text>
<text x="45.4" y="568.25" font-size="7.1" text-anchor="end">60000</text>
<text x="45.4" y="595.27" font-size="7.1" text-anchor="end">40000</text>
<text x="45.4" y="622.29" font-size="7.1" text-anchor="end">20000</text>
<text x="45.4" y="649.31" font-size="7.1" text-anchor="end">0</text>
<path class="bar" d="M57.8,619.75 L57.8,643.7 A5.15,1.55 -5 0 0 68.1,642.8 L68.1,618.85 A5.15,1.55 -5 0 0 57.8,619.75Z"/>
<ellipse class="top" cx="62.95" cy="619.3" rx="4.9" ry="1.45" transform="rotate(-5 62.95 619.3)"/>
<path class="bar" d="M68.79,633.15 L68.79,643.7 A5.15,1.55 -5 0 0 79.09,642.8 L79.09,632.25 A5.15,1.55 -5 0 0 68.79,633.15Z"/>
<ellipse class="top" cx="73.94" cy="632.7" rx="4.9" ry="1.45" transform="rotate(-5 73.94 632.7)"/>
<path class="bar" d="M79.78,547.95 L79.78,643.7 A5.15,1.55 -5 0 0 90.08,642.8 L90.08,547.05 A5.15,1.55 -5 0 0 79.78,547.95Z"/>
<ellipse class="top" cx="84.93" cy="547.5" rx="4.9" ry="1.45" transform="rotate(-5 84.93 547.5)"/>
<path class="bar" d="M90.77,581.05 L90.77,643.7 A5.15,1.55 -5 0 0 101.07,642.8 L101.07,580.15 A5.15,1.55 -5 0 0 90.77,581.05Z"/>
<ellipse class="top" cx="95.92" cy="580.6" rx="4.9" ry="1.45" transform="rotate(-5 95.92 580.6)"/>
<path class="bar" d="M101.76,617.65 L101.76,643.7 A5.15,1.55 -5 0 0 112.06,642.8 L112.06,616.75 A5.15,1.55 -5 0 0 101.76,617.65Z"/>
<ellipse class="top" cx="106.91" cy="617.2" rx="4.9" ry="1.45" transform="rotate(-5 106.91 617.2)"/>
<path class="bar" d="M112.75,623.15 L112.75,643.7 A5.15,1.55 -5 0 0 123.05,642.8 L123.05,622.25 A5.15,1.55 -5 0 0 112.75,623.15Z"/>
<ellipse class="top" cx="117.9" cy="622.7" rx="4.9" ry="1.45" transform="rotate(-5 117.9 622.7)"/>
<path class="bar" d="M123.74,599.25 L123.74,643.7 A5.15,1.55 -5 0 0 134.04,642.8 L134.04,598.35 A5.15,1.55 -5 0 0 123.74,599.25Z"/>
<ellipse class="top" cx="128.89" cy="598.8" rx="4.9" ry="1.45" transform="rotate(-5 128.89 598.8)"/>
<path class="bar" d="M134.73,626.85 L134.73,643.7 A5.15,1.55 -5 0 0 145.03,642.8 L145.03,625.95 A5.15,1.55 -5 0 0 134.73,626.85Z"/>
<ellipse class="top" cx="139.88" cy="626.4" rx="4.9" ry="1.45" transform="rotate(-5 139.88 626.4)"/>
<path class="bar" d="M145.72,617.65 L145.72,643.7 A5.15,1.55 -5 0 0 156.02,642.8 L156.02,616.75 A5.15,1.55 -5 0 0 145.72,617.65Z"/>
<ellipse class="top" cx="150.87" cy="617.2" rx="4.9" ry="1.45" transform="rotate(-5 150.87 617.2)"/>
<path class="bar" d="M156.71,622.65 L156.71,643.7 A5.15,1.55 -5 0 0 167.01,642.8 L167.01,621.75 A5.15,1.55 -5 0 0 156.71,622.65Z"/>
<ellipse class="top" cx="161.86" cy="622.2" rx="4.9" ry="1.45" transform="rotate(-5 161.86 622.2)"/>
<path class="bar" d="M167.7,641.66 L167.7,643.7 A5.15,1.55 -5 0 0 178,642.8 L178,640.76 A5.15,1.55 -5 0 0 167.7,641.66Z"/>
<ellipse class="top" cx="172.85" cy="641.21" rx="4.9" ry="1.45" transform="rotate(-5 172.85 641.21)"/>
<ellipse class="flat" cx="183.84" cy="643.07" rx="4.85" ry="1.43" transform="rotate(-3 183.84 643.07)"/>
<path class="bar" d="M189.68,640.67 L189.68,643.7 A5.15,1.55 -5 0 0 199.98,642.8 L199.98,639.78 A5.15,1.55 -5 0 0 189.68,640.67Z"/>
<ellipse class="top" cx="194.83" cy="640.23" rx="4.9" ry="1.45" transform="rotate(-5 194.83 640.23)"/>
<path class="bar" d="M200.67,635.42 L200.67,643.7 A5.15,1.55 -5 0 0 210.97,642.8 L210.97,634.52 A5.15,1.55 -5 0 0 200.67,635.42Z"/>
<ellipse class="top" cx="205.82" cy="634.97" rx="4.9" ry="1.45" transform="rotate(-5 205.82 634.97)"/>
<path class="bar" d="M211.66,637.61 L211.66,643.7 A5.15,1.55 -5 0 0 221.96,642.8 L221.96,636.71 A5.15,1.55 -5 0 0 211.66,637.61Z"/>
<ellipse class="top" cx="216.81" cy="637.16" rx="4.9" ry="1.45" transform="rotate(-5 216.81 637.16)"/>
<path class="bar" d="M222.65,631.95 L222.65,643.7 A5.15,1.55 -5 0 0 232.95,642.8 L232.95,631.05 A5.15,1.55 -5 0 0 222.65,631.95Z"/>
<ellipse class="top" cx="227.8" cy="631.5" rx="4.9" ry="1.45" transform="rotate(-5 227.8 631.5)"/>
<ellipse class="flat" cx="238.79" cy="643.32" rx="4.85" ry="1.18" transform="rotate(-3 238.79 643.32)"/>
<path class="bar" d="M244.63,640.89 L244.63,643.7 A5.15,1.55 -5 0 0 254.93,642.8 L254.93,640 A5.15,1.55 -5 0 0 244.63,640.89Z"/>
<ellipse class="top" cx="249.78" cy="640.44" rx="4.9" ry="1.45" transform="rotate(-5 249.78 640.44)"/>
<path class="bar" d="M255.62,642.21 L255.62,643.7 A5.15,1.55 -5 0 0 265.92,642.8 L265.92,641.31 A5.15,1.55 -5 0 0 255.62,642.21Z"/>
<ellipse class="top" cx="260.77" cy="641.76" rx="4.9" ry="1.45" transform="rotate(-5 260.77 641.76)"/>
<path class="bar" d="M266.61,611.75 L266.61,643.7 A5.15,1.55 -5 0 0 276.91,642.8 L276.91,610.85 A5.15,1.55 -5 0 0 266.61,611.75Z"/>
<ellipse class="top" cx="271.76" cy="611.3" rx="4.9" ry="1.45" transform="rotate(-5 271.76 611.3)"/>
<path class="bar" d="M277.6,637.61 L277.6,643.7 A5.15,1.55 -5 0 0 287.9,642.8 L287.9,636.71 A5.15,1.55 -5 0 0 277.6,637.61Z"/>
<ellipse class="top" cx="282.75" cy="637.16" rx="4.9" ry="1.45" transform="rotate(-5 282.75 637.16)"/>
<path class="bar" d="M288.59,641.22 L288.59,643.7 A5.15,1.55 -5 0 0 298.89,642.8 L298.89,640.32 A5.15,1.55 -5 0 0 288.59,641.22Z"/>
<ellipse class="top" cx="293.74" cy="640.77" rx="4.9" ry="1.45" transform="rotate(-5 293.74 640.77)"/>
<ellipse class="flat" cx="304.73" cy="643.35" rx="4.85" ry="1.15" transform="rotate(-3 304.73 643.35)"/>
<text transform="translate(57.38,657) rotate(-45)" font-size="7.2" text-anchor="end" y="2.59" stroke-width="0.35">0.6</text>
<text transform="translate(79.29,657) rotate(-45)" font-size="7.2" text-anchor="end" y="2.59" stroke-width="0.35">3.2</text>
<text transform="translate(101.2,657) rotate(-45)" font-size="7.2" text-anchor="end" y="2.59" stroke-width="0.35">6.2</text>
<text transform="translate(123.12,657) rotate(-45)" font-size="7.2" text-anchor="end" y="2.59" stroke-width="0.35">9.2</text>
<text transform="translate(145.03,657) rotate(-45)" font-size="7.2" text-anchor="end" y="2.59" stroke-width="0.35">10.8</text>
<text transform="translate(166.94,657) rotate(-45)" font-size="7.2" text-anchor="end" y="2.59" stroke-width="0.35">13.8</text>
<text transform="translate(188.86,657) rotate(-45)" font-size="7.2" text-anchor="end" y="2.59" stroke-width="0.35">16.8</text>
<text transform="translate(210.77,657) rotate(-45)" font-size="7.2" text-anchor="end" y="2.59" stroke-width="0.35">19.8</text>
<text transform="translate(232.68,657) rotate(-45)" font-size="7.2" text-anchor="end" y="2.59" stroke-width="0.35">22.7</text>
<text transform="translate(254.6,657) rotate(-45)" font-size="7.2" text-anchor="end" y="2.59" stroke-width="0.35">24.4</text>
<text transform="translate(276.51,657) rotate(-45)" font-size="7.2" text-anchor="end" y="2.59" stroke-width="0.35">27.4</text>
<text transform="translate(298.42,657) rotate(-45)" font-size="7.2" text-anchor="end" y="2.59" stroke-width="0.35">30.4</text>
<rect class="lg" x="228.9" y="549.3" width="4.2" height="4.2"/>
<text x="235.3" y="554.39" font-size="7.3" textLength="65.6" lengthAdjust="spacingAndGlyphs">Employment density</text>
<text x="298.3" y="667.52" font-size="5.83" textLength="40.2" lengthAdjust="spacingAndGlyphs">Distance（km)</text>
<text x="21.7" y="501.34" font-size="8.13" textLength="44.3" lengthAdjust="spacingAndGlyphs">Pop.per km²</text>
<text class="cap" x="50" y="710.7" textLength="254" lengthAdjust="spacingAndGlyphs">(g).Tiananmen-Longquan direction</text>
</g>
<g id="panel-h">
<polyline class="g" points="392.6,512.9 400.8,506.4 651.3,506.4"/>
<polyline class="g" points="392.6,540.38 400.8,534.02 651.3,534.02"/>
<polyline class="g" points="392.6,567.86 400.8,561.64 651.3,561.64"/>
<polyline class="g" points="392.6,595.34 400.8,589.26 651.3,589.26"/>
<polyline class="g" points="392.6,622.82 400.8,616.88 651.3,616.88"/>
<polyline class="g" points="392.6,650.3 400.8,644.5 651.3,644.5"/>
<polygon class="g" points="392.6,650.3 400.8,644.5 651.3,644.5 643.3,650.3"/>
<line class="g" x1="392.6" y1="512.9" x2="392.6" y2="650.3"/>
<path class="tk" d="M392.6,512.9 h-1.8 M392.6,540.38 h-1.8 M392.6,567.86 h-1.8 M392.6,595.34 h-1.8 M392.6,622.82 h-1.8 M392.6,650.3 h-1.8"/>
<path class="tk" d="M392.6,650.3 v1.8 M403.05,650.3 v1.8 M413.49,650.3 v1.8 M423.94,650.3 v1.8 M434.38,650.3 v1.8 M444.83,650.3 v1.8 M455.27,650.3 v1.8 M465.72,650.3 v1.8 M476.17,650.3 v1.8 M486.61,650.3 v1.8 M497.06,650.3 v1.8 M507.5,650.3 v1.8 M517.95,650.3 v1.8 M528.4,650.3 v1.8 M538.84,650.3 v1.8 M549.29,650.3 v1.8 M559.73,650.3 v1.8 M570.18,650.3 v1.8 M580.62,650.3 v1.8 M591.07,650.3 v1.8 M601.52,650.3 v1.8 M611.96,650.3 v1.8 M622.41,650.3 v1.8 M632.85,650.3 v1.8 M643.3,650.3 v1.8"/>
<text x="386.3" y="515.71" font-size="7.1" text-anchor="end">100000</text>
<text x="386.3" y="543.19" font-size="7.1" text-anchor="end">80000</text>
<text x="386.3" y="570.67" font-size="7.1" text-anchor="end">60000</text>
<text x="386.3" y="598.15" font-size="7.1" text-anchor="end">40000</text>
<text x="386.3" y="625.63" font-size="7.1" text-anchor="end">20000</text>
<text x="386.3" y="653.11" font-size="7.1" text-anchor="end">0</text>
<path class="bar" d="M397.5,542.93 L397.5,647.38 A4.9,1.45 -5 0 0 407.3,646.52 L407.3,542.07 A4.9,1.45 -5 0 0 397.5,542.93Z"/>
<ellipse class="top" cx="402.4" cy="542.5" rx="4.65" ry="1.35" transform="rotate(-5 402.4 542.5)"/>
<path class="bar" d="M407.92,603.43 L407.92,647.38 A4.9,1.45 -5 0 0 417.72,646.52 L417.72,602.57 A4.9,1.45 -5 0 0 407.92,603.43Z"/>
<ellipse class="top" cx="412.82" cy="603" rx="4.65" ry="1.35" transform="rotate(-5 412.82 603)"/>
<path class="bar" d="M418.34,622.63 L418.34,647.38 A4.9,1.45 -5 0 0 428.14,646.52 L428.14,621.77 A4.9,1.45 -5 0 0 418.34,622.63Z"/>
<ellipse class="top" cx="423.24" cy="622.2" rx="4.65" ry="1.35" transform="rotate(-5 423.24 622.2)"/>
<path class="bar" d="M428.76,610.13 L428.76,647.38 A4.9,1.45 -5 0 0 438.56,646.52 L438.56,609.27 A4.9,1.45 -5 0 0 428.76,610.13Z"/>
<ellipse class="top" cx="433.66" cy="609.7" rx="4.65" ry="1.35" transform="rotate(-5 433.66 609.7)"/>
<path class="bar" d="M439.18,628.13 L439.18,647.38 A4.9,1.45 -5 0 0 448.98,646.52 L448.98,627.27 A4.9,1.45 -5 0 0 439.18,628.13Z"/>
<ellipse class="top" cx="444.08" cy="627.7" rx="4.65" ry="1.35" transform="rotate(-5 444.08 627.7)"/>
<path class="bar" d="M449.6,628.43 L449.6,647.38 A4.9,1.45 -5 0 0 459.4,646.52 L459.4,627.57 A4.9,1.45 -5 0 0 449.6,628.43Z"/>
<ellipse class="top" cx="454.5" cy="628" rx="4.65" ry="1.35" transform="rotate(-5 454.5 628)"/>
<path class="bar" d="M460.02,629.43 L460.02,647.38 A4.9,1.45 -5 0 0 469.82,646.52 L469.82,628.57 A4.9,1.45 -5 0 0 460.02,629.43Z"/>
<ellipse class="top" cx="464.92" cy="629" rx="4.65" ry="1.35" transform="rotate(-5 464.92 629)"/>
<path class="bar" d="M470.44,639.42 L470.44,647.38 A4.9,1.45 -5 0 0 480.24,646.52 L480.24,638.57 A4.9,1.45 -5 0 0 470.44,639.42Z"/>
<ellipse class="top" cx="475.34" cy="638.99" rx="4.65" ry="1.35" transform="rotate(-5 475.34 638.99)"/>
<path class="bar" d="M480.86,640.29 L480.86,647.38 A4.9,1.45 -5 0 0 490.66,646.52 L490.66,639.44 A4.9,1.45 -5 0 0 480.86,640.29Z"/>
<ellipse class="top" cx="485.76" cy="639.86" rx="4.65" ry="1.35" transform="rotate(-5 485.76 639.86)"/>
<path class="bar" d="M491.28,640.51 L491.28,647.38 A4.9,1.45 -5 0 0 501.08,646.52 L501.08,639.65 A4.9,1.45 -5 0 0 491.28,640.51Z"/>
<ellipse class="top" cx="496.18" cy="640.08" rx="4.65" ry="1.35" transform="rotate(-5 496.18 640.08)"/>
<path class="bar" d="M501.7,645.41 L501.7,647.38 A4.9,1.45 -5 0 0 511.5,646.52 L511.5,644.55 A4.9,1.45 -5 0 0 501.7,645.41Z"/>
<ellipse class="top" cx="506.6" cy="644.98" rx="4.65" ry="1.35" transform="rotate(-5 506.6 644.98)"/>
<ellipse class="flat" cx="517.02" cy="646.7" rx="4.6" ry="1.4" transform="rotate(-3 517.02 646.7)"/>
<ellipse class="flat" cx="527.44" cy="646.95" rx="4.6" ry="1.15" transform="rotate(-3 527.44 646.95)"/>
<ellipse class="flat" cx="537.86" cy="646.7" rx="4.6" ry="1.4" transform="rotate(-3 537.86 646.7)"/>
<path class="bar" d="M543.38,640.84 L543.38,647.38 A4.9,1.45 -5 0 0 553.18,646.52 L553.18,639.98 A4.9,1.45 -5 0 0 543.38,640.84Z"/>
<ellipse class="top" cx="548.28" cy="640.41" rx="4.65" ry="1.35" transform="rotate(-5 548.28 640.41)"/>
<path class="bar" d="M553.8,645.08 L553.8,647.38 A4.9,1.45 -5 0 0 563.6,646.52 L563.6,644.23 A4.9,1.45 -5 0 0 553.8,645.08Z"/>
<ellipse class="top" cx="558.7" cy="644.65" rx="4.65" ry="1.35" transform="rotate(-5 558.7 644.65)"/>
<path class="bar" d="M564.22,630.63 L564.22,647.38 A4.9,1.45 -5 0 0 574.02,646.52 L574.02,629.77 A4.9,1.45 -5 0 0 564.22,630.63Z"/>
<ellipse class="top" cx="569.12" cy="630.2" rx="4.65" ry="1.35" transform="rotate(-5 569.12 630.2)"/>
<path class="bar" d="M574.64,638.66 L574.64,647.38 A4.9,1.45 -5 0 0 584.44,646.52 L584.44,637.8 A4.9,1.45 -5 0 0 574.64,638.66Z"/>
<ellipse class="top" cx="579.54" cy="638.23" rx="4.65" ry="1.35" transform="rotate(-5 579.54 638.23)"/>
<ellipse class="flat" cx="589.96" cy="646.95" rx="4.6" ry="1.15" transform="rotate(-3 589.96 646.95)"/>
<ellipse class="flat" cx="600.38" cy="646.7" rx="4.6" ry="1.4" transform="rotate(-3 600.38 646.7)"/>
<ellipse class="flat" cx="610.8" cy="646.95" rx="4.6" ry="1.15" transform="rotate(-3 610.8 646.95)"/>
<ellipse class="flat" cx="621.22" cy="646.95" rx="4.6" ry="1.15" transform="rotate(-3 621.22 646.95)"/>
<ellipse class="flat" cx="631.64" cy="646.95" rx="4.6" ry="1.15" transform="rotate(-3 631.64 646.95)"/>
<ellipse class="flat" cx="642.06" cy="646.95" rx="4.6" ry="1.15" transform="rotate(-3 642.06 646.95)"/>
<text transform="translate(396.32,660.8) rotate(-45)" font-size="7.2" text-anchor="end" y="2.59" stroke-width="0.35">0.6</text>
<text transform="translate(417.21,660.8) rotate(-45)" font-size="7.2" text-anchor="end" y="2.59" stroke-width="0.35">2.5</text>
<text transform="translate(438.11,660.8) rotate(-45)" font-size="7.2" text-anchor="end" y="2.59" stroke-width="0.35">4.6</text>
<text transform="translate(459,660.8) rotate(-45)" font-size="7.2" text-anchor="end" y="2.59" stroke-width="0.35">6.9</text>
<text transform="translate(479.89,660.8) rotate(-45)" font-size="7.2" text-anchor="end" y="2.59" stroke-width="0.35">9.0</text>
<text transform="translate(500.78,660.8) rotate(-45)" font-size="7.2" text-anchor="end" y="2.59" stroke-width="0.35">11.0</text>
<text transform="translate(521.67,660.8) rotate(-45)" font-size="7.2" text-anchor="end" y="2.59" stroke-width="0.35">13.1</text>
<text transform="translate(542.56,660.8) rotate(-45)" font-size="7.2" text-anchor="end" y="2.59" stroke-width="0.35">15.3</text>
<text transform="translate(563.46,660.8) rotate(-45)" font-size="7.2" text-anchor="end" y="2.59" stroke-width="0.35">17.4</text>
<text transform="translate(584.35,660.8) rotate(-45)" font-size="7.2" text-anchor="end" y="2.59" stroke-width="0.35">19.5</text>
<text transform="translate(605.24,660.8) rotate(-45)" font-size="7.2" text-anchor="end" y="2.59" stroke-width="0.35">21.6</text>
<text transform="translate(626.13,660.8) rotate(-45)" font-size="7.2" text-anchor="end" y="2.59" stroke-width="0.35">23.7</text>
<rect class="lg" x="559.8" y="550.1" width="3.8" height="3.9"/>
<text x="565.9" y="554.99" font-size="7.3" textLength="64" lengthAdjust="spacingAndGlyphs">Employment density</text>
<text x="634.1" y="667.04" font-size="5.57" textLength="38.4" lengthAdjust="spacingAndGlyphs">Distance（km)</text>
<text x="356.2" y="502.87" font-size="7.91" textLength="43.1" lengthAdjust="spacingAndGlyphs">Pop.per km²</text>
<text class="cap" x="387.5" y="707.7" textLength="250.5" lengthAdjust="spacingAndGlyphs">(h).Tiananmen-Majuqiao direction</text>
</g>
<g id="panel-i">
<polyline class="g" points="726.9,515.4 733.9,509.2 983.3,509.2"/>
<polyline class="g" points="726.9,543.56 733.9,537.5 983.3,537.5"/>
<polyline class="g" points="726.9,571.72 733.9,565.8 983.3,565.8"/>
<polyline class="g" points="726.9,599.88 733.9,594.1 983.3,594.1"/>
<polyline class="g" points="726.9,628.04 733.9,622.4 983.3,622.4"/>
<polyline class="g" points="726.9,656.2 733.9,650.7 983.3,650.7"/>
<polygon class="g" points="726.9,656.2 733.9,650.7 983.3,650.7 975.7,656.2"/>
<line class="g" x1="726.9" y1="515.4" x2="726.9" y2="656.2"/>
<path class="tk" d="M726.9,515.4 h-1.8 M726.9,543.56 h-1.8 M726.9,571.72 h-1.8 M726.9,599.88 h-1.8 M726.9,628.04 h-1.8 M726.9,656.2 h-1.8"/>
<path class="tk" d="M726.9,656.2 v1.8 M737.27,656.2 v1.8 M747.63,656.2 v1.8 M758,656.2 v1.8 M768.37,656.2 v1.8 M778.73,656.2 v1.8 M789.1,656.2 v1.8 M799.47,656.2 v1.8 M809.83,656.2 v1.8 M820.2,656.2 v1.8 M830.57,656.2 v1.8 M840.93,656.2 v1.8 M851.3,656.2 v1.8 M861.67,656.2 v1.8 M872.03,656.2 v1.8 M882.4,656.2 v1.8 M892.77,656.2 v1.8 M903.13,656.2 v1.8 M913.5,656.2 v1.8 M923.87,656.2 v1.8 M934.23,656.2 v1.8 M944.6,656.2 v1.8 M954.97,656.2 v1.8 M965.33,656.2 v1.8 M975.7,656.2 v1.8"/>
<text x="718.9" y="518.21" font-size="7.1" text-anchor="end">100000</text>
<text x="718.9" y="546.37" font-size="7.1" text-anchor="end">80000</text>
<text x="718.9" y="574.53" font-size="7.1" text-anchor="end">60000</text>
<text x="718.9" y="602.69" font-size="7.1" text-anchor="end">40000</text>
<text x="718.9" y="630.85" font-size="7.1" text-anchor="end">20000</text>
<text x="718.9" y="659.01" font-size="7.1" text-anchor="end">0</text>
<path class="bar" d="M730.8,628.92 L730.8,653.84 A4.8,1.38 -5 0 0 740.4,653.01 L740.4,628.08 A4.8,1.38 -5 0 0 730.8,628.92Z"/>
<ellipse class="top" cx="735.6" cy="628.5" rx="4.55" ry="1.27" transform="rotate(-5 735.6 628.5)"/>
<path class="bar" d="M741.19,623.92 L741.19,653.84 A4.8,1.38 -5 0 0 750.79,653.01 L750.79,623.08 A4.8,1.38 -5 0 0 741.19,623.92Z"/>
<ellipse class="top" cx="745.99" cy="623.5" rx="4.55" ry="1.27" transform="rotate(-5 745.99 623.5)"/>
<path class="bar" d="M751.58,627.82 L751.58,653.84 A4.8,1.38 -5 0 0 761.18,653.01 L761.18,626.98 A4.8,1.38 -5 0 0 751.58,627.82Z"/>
<ellipse class="top" cx="756.38" cy="627.4" rx="4.55" ry="1.27" transform="rotate(-5 756.38 627.4)"/>
<path class="bar" d="M761.97,633.12 L761.97,653.84 A4.8,1.38 -5 0 0 771.57,653.01 L771.57,632.28 A4.8,1.38 -5 0 0 761.97,633.12Z"/>
<ellipse class="top" cx="766.77" cy="632.7" rx="4.55" ry="1.27" transform="rotate(-5 766.77 632.7)"/>
<path class="bar" d="M772.36,603.02 L772.36,653.84 A4.8,1.38 -5 0 0 781.96,653.01 L781.96,602.18 A4.8,1.38 -5 0 0 772.36,603.02Z"/>
<ellipse class="top" cx="777.16" cy="602.6" rx="4.55" ry="1.27" transform="rotate(-5 777.16 602.6)"/>
<path class="bar" d="M782.75,618.12 L782.75,653.84 A4.8,1.38 -5 0 0 792.35,653.01 L792.35,617.28 A4.8,1.38 -5 0 0 782.75,618.12Z"/>
<ellipse class="top" cx="787.55" cy="617.7" rx="4.55" ry="1.27" transform="rotate(-5 787.55 617.7)"/>
<path class="bar" d="M793.14,613.42 L793.14,653.84 A4.8,1.38 -5 0 0 802.74,653.01 L802.74,612.58 A4.8,1.38 -5 0 0 793.14,613.42Z"/>
<ellipse class="top" cx="797.94" cy="613" rx="4.55" ry="1.27" transform="rotate(-5 797.94 613)"/>
<path class="bar" d="M803.53,624.82 L803.53,653.84 A4.8,1.38 -5 0 0 813.13,653.01 L813.13,623.98 A4.8,1.38 -5 0 0 803.53,624.82Z"/>
<ellipse class="top" cx="808.33" cy="624.4" rx="4.55" ry="1.27" transform="rotate(-5 808.33 624.4)"/>
<path class="bar" d="M813.92,591.42 L813.92,653.84 A4.8,1.38 -5 0 0 823.52,653.01 L823.52,590.58 A4.8,1.38 -5 0 0 813.92,591.42Z"/>
<ellipse class="top" cx="818.72" cy="591" rx="4.55" ry="1.27" transform="rotate(-5 818.72 591)"/>
<path class="bar" d="M824.31,601.42 L824.31,653.84 A4.8,1.38 -5 0 0 833.91,653.01 L833.91,600.58 A4.8,1.38 -5 0 0 824.31,601.42Z"/>
<ellipse class="top" cx="829.11" cy="601" rx="4.55" ry="1.27" transform="rotate(-5 829.11 601)"/>
<path class="bar" d="M834.7,601.72 L834.7,653.84 A4.8,1.38 -5 0 0 844.3,653.01 L844.3,600.88 A4.8,1.38 -5 0 0 834.7,601.72Z"/>
<ellipse class="top" cx="839.5" cy="601.3" rx="4.55" ry="1.27" transform="rotate(-5 839.5 601.3)"/>
<ellipse class="flat" cx="849.89" cy="652.95" rx="4.5" ry="1.55" transform="rotate(-3 849.89 652.95)"/>
<ellipse class="flat" cx="860.28" cy="652.95" rx="4.5" ry="1.55" transform="rotate(-3 860.28 652.95)"/>
<path class="bar" d="M865.87,646.23 L865.87,653.84 A4.8,1.38 -5 0 0 875.47,653.01 L875.47,645.4 A4.8,1.38 -5 0 0 865.87,646.23Z"/>
<ellipse class="top" cx="870.67" cy="645.82" rx="4.55" ry="1.27" transform="rotate(-5 870.67 645.82)"/>
<path class="bar" d="M876.26,554.32 L876.26,653.84 A4.8,1.38 -5 0 0 885.86,653.01 L885.86,553.48 A4.8,1.38 -5 0 0 876.26,554.32Z"/>
<ellipse class="top" cx="881.06" cy="553.9" rx="4.55" ry="1.27" transform="rotate(-5 881.06 553.9)"/>
<path class="bar" d="M886.65,614.72 L886.65,653.84 A4.8,1.38 -5 0 0 896.25,653.01 L896.25,613.88 A4.8,1.38 -5 0 0 886.65,614.72Z"/>
<ellipse class="top" cx="891.45" cy="614.3" rx="4.55" ry="1.27" transform="rotate(-5 891.45 614.3)"/>
<path class="bar" d="M897.04,621.92 L897.04,653.84 A4.8,1.38 -5 0 0 906.64,653.01 L906.64,621.08 A4.8,1.38 -5 0 0 897.04,621.92Z"/>
<ellipse class="top" cx="901.84" cy="621.5" rx="4.55" ry="1.27" transform="rotate(-5 901.84 621.5)"/>
<ellipse class="flat" cx="912.23" cy="653.35" rx="4.5" ry="1.15" transform="rotate(-3 912.23 653.35)"/>
<ellipse class="flat" cx="922.62" cy="653.35" rx="4.5" ry="1.15" transform="rotate(-3 922.62 653.35)"/>
<path class="bar" d="M928.21,652.09 L928.21,653.84 A4.8,1.38 -5 0 0 937.81,653.01 L937.81,651.25 A4.8,1.38 -5 0 0 928.21,652.09Z"/>
<ellipse class="top" cx="933.01" cy="651.67" rx="4.55" ry="1.27" transform="rotate(-5 933.01 651.67)"/>
<ellipse class="flat" cx="943.4" cy="653.1" rx="4.5" ry="1.4" transform="rotate(-3 943.4 653.1)"/>
<path class="bar" d="M948.99,650.79 L948.99,653.84 A4.8,1.38 -5 0 0 958.59,653.01 L958.59,649.95 A4.8,1.38 -5 0 0 948.99,650.79Z"/>
<ellipse class="top" cx="953.79" cy="650.37" rx="4.55" ry="1.27" transform="rotate(-5 953.79 650.37)"/>
<ellipse class="flat" cx="964.18" cy="653.35" rx="4.5" ry="1.15" transform="rotate(-3 964.18 653.35)"/>
<ellipse class="flat" cx="974.57" cy="653.35" rx="4.5" ry="1.15" transform="rotate(-3 974.57 653.35)"/>
<text transform="translate(730.58,666.7) rotate(-45)" font-size="7.2" text-anchor="end" y="2.59" stroke-width="0.35">0.6</text>
<text transform="translate(751.32,666.7) rotate(-45)" font-size="7.2" text-anchor="end" y="2.59" stroke-width="0.35">2.6</text>
<text transform="translate(772.05,666.7) rotate(-45)" font-size="7.2" text-anchor="end" y="2.59" stroke-width="0.35">5.3</text>
<text transform="translate(792.78,666.7) rotate(-45)" font-size="7.2" text-anchor="end" y="2.59" stroke-width="0.35">7.3</text>
<text transform="translate(813.52,666.7) rotate(-45)" font-size="7.2" text-anchor="end" y="2.59" stroke-width="0.35">9.3</text>
<text transform="translate(834.25,666.7) rotate(-45)" font-size="7.2" text-anchor="end" y="2.59" stroke-width="0.35">11.4</text>
<text transform="translate(854.98,666.7) rotate(-45)" font-size="7.2" text-anchor="end" y="2.59" stroke-width="0.35">14.0</text>
<text transform="translate(875.72,666.7) rotate(-45)" font-size="7.2" text-anchor="end" y="2.59" stroke-width="0.35">16.0</text>
<text transform="translate(896.45,666.7) rotate(-45)" font-size="7.2" text-anchor="end" y="2.59" stroke-width="0.35">18.0</text>
<text transform="translate(917.18,666.7) rotate(-45)" font-size="7.2" text-anchor="end" y="2.59" stroke-width="0.35">20.7</text>
<text transform="translate(937.92,666.7) rotate(-45)" font-size="7.2" text-anchor="end" y="2.59" stroke-width="0.35">22.7</text>
<text transform="translate(958.65,666.7) rotate(-45)" font-size="7.2" text-anchor="end" y="2.59" stroke-width="0.35">24.1</text>
<rect class="lg" x="896.9" y="555.5" width="4.2" height="4.2"/>
<text x="903.1" y="560.59" font-size="7.3" textLength="64.3" lengthAdjust="spacingAndGlyphs">Employment density</text>
<text x="966.2" y="672.56" font-size="5.62" textLength="38.8" lengthAdjust="spacingAndGlyphs">Distance（km)</text>
<text x="690.5" y="506.27" font-size="7.91" textLength="43.1" lengthAdjust="spacingAndGlyphs">Pop.per km²</text>
<text class="cap" x="722" y="710.7" textLength="235" lengthAdjust="spacingAndGlyphs">(i).Tiananmen-Shangdi direction</text>
</g>
<g id="panel-j">
<polyline class="g" points="55.9,752.1 67.6,743.9 307.9,743.9"/>
<polyline class="g" points="55.9,779.74 67.6,771.58 307.9,771.58"/>
<polyline class="g" points="55.9,807.38 67.6,799.26 307.9,799.26"/>
<polyline class="g" points="55.9,835.02 67.6,826.94 307.9,826.94"/>
<polyline class="g" points="55.9,862.66 67.6,854.62 307.9,854.62"/>
<polyline class="g" points="55.9,890.3 67.6,882.3 307.9,882.3"/>
<polygon class="g" points="55.9,890.3 67.6,882.3 307.9,882.3 297.1,890.3"/>
<line class="g" x1="55.9" y1="752.1" x2="55.9" y2="890.3"/>
<path class="tk" d="M55.9,752.1 h-1.8 M55.9,779.74 h-1.8 M55.9,807.38 h-1.8 M55.9,835.02 h-1.8 M55.9,862.66 h-1.8 M55.9,890.3 h-1.8"/>
<path class="tk" d="M55.9,890.3 v1.8 M70.09,890.3 v1.8 M84.28,890.3 v1.8 M98.46,890.3 v1.8 M112.65,890.3 v1.8 M126.84,890.3 v1.8 M141.03,890.3 v1.8 M155.22,890.3 v1.8 M169.41,890.3 v1.8 M183.59,890.3 v1.8 M197.78,890.3 v1.8 M211.97,890.3 v1.8 M226.16,890.3 v1.8 M240.35,890.3 v1.8 M254.54,890.3 v1.8 M268.72,890.3 v1.8 M282.91,890.3 v1.8 M297.1,890.3 v1.8"/>
<text x="48.4" y="754.91" font-size="7.1" text-anchor="end">100000</text>
<text x="48.4" y="782.55" font-size="7.1" text-anchor="end">80000</text>
<text x="48.4" y="810.19" font-size="7.1" text-anchor="end">60000</text>
<text x="48.4" y="837.83" font-size="7.1" text-anchor="end">40000</text>
<text x="48.4" y="865.47" font-size="7.1" text-anchor="end">20000</text>
<text x="48.4" y="893.11" font-size="7.1" text-anchor="end">0</text>
<path class="bar" d="M61.4,876.18 L61.4,886.68 A6.7,2 -5 0 0 74.8,885.52 L74.8,875.02 A6.7,2 -5 0 0 61.4,876.18Z"/>
<ellipse class="top" cx="68.1" cy="875.6" rx="6.45" ry="1.9" transform="rotate(-5 68.1 875.6)"/>
<path class="bar" d="M75.6,860.78 L75.6,886.68 A6.7,2 -5 0 0 89,885.52 L89,859.62 A6.7,2 -5 0 0 75.6,860.78Z"/>
<ellipse class="top" cx="82.3" cy="860.2" rx="6.45" ry="1.9" transform="rotate(-5 82.3 860.2)"/>
<path class="bar" d="M89.8,866.3 L89.8,886.68 A6.7,2 -5 0 0 103.2,885.52 L103.2,865.14 A6.7,2 -5 0 0 89.8,866.3Z"/>
<ellipse class="top" cx="96.5" cy="865.72" rx="6.45" ry="1.9" transform="rotate(-5 96.5 865.72)"/>
<path class="bar" d="M104,836.08 L104,886.68 A6.7,2 -5 0 0 117.4,885.52 L117.4,834.92 A6.7,2 -5 0 0 104,836.08Z"/>
<ellipse class="top" cx="110.7" cy="835.5" rx="6.45" ry="1.9" transform="rotate(-5 110.7 835.5)"/>
<path class="bar" d="M118.2,819.08 L118.2,886.68 A6.7,2 -5 0 0 131.6,885.52 L131.6,817.92 A6.7,2 -5 0 0 118.2,819.08Z"/>
<ellipse class="top" cx="124.9" cy="818.5" rx="6.45" ry="1.9" transform="rotate(-5 124.9 818.5)"/>
<path class="bar" d="M132.4,849.58 L132.4,886.68 A6.7,2 -5 0 0 145.8,885.52 L145.8,848.42 A6.7,2 -5 0 0 132.4,849.58Z"/>
<ellipse class="top" cx="139.1" cy="849" rx="6.45" ry="1.9" transform="rotate(-5 139.1 849)"/>
<path class="bar" d="M146.6,859.48 L146.6,886.68 A6.7,2 -5 0 0 160,885.52 L160,858.32 A6.7,2 -5 0 0 146.6,859.48Z"/>
<ellipse class="top" cx="153.3" cy="858.9" rx="6.45" ry="1.9" transform="rotate(-5 153.3 858.9)"/>
<ellipse class="flat" cx="167.5" cy="886.4" rx="6.4" ry="1.4" transform="rotate(-3 167.5 886.4)"/>
<ellipse class="flat" cx="181.7" cy="886.4" rx="6.4" ry="1.4" transform="rotate(-3 181.7 886.4)"/>
<ellipse class="flat" cx="195.9" cy="886.4" rx="6.4" ry="1.4" transform="rotate(-3 195.9 886.4)"/>
<ellipse class="flat" cx="210.1" cy="886.4" rx="6.4" ry="1.4" transform="rotate(-3 210.1 886.4)"/>
<path class="bar" d="M217.6,885.24 L217.6,886.68 A6.7,2 -5 0 0 231,885.52 L231,884.08 A6.7,2 -5 0 0 217.6,885.24Z"/>
<ellipse class="top" cx="224.3" cy="884.66" rx="6.45" ry="1.9" transform="rotate(-5 224.3 884.66)"/>
<ellipse class="flat" cx="238.5" cy="886.4" rx="6.4" ry="1.4" transform="rotate(-3 238.5 886.4)"/>
<ellipse class="flat" cx="252.7" cy="886.4" rx="6.4" ry="1.4" transform="rotate(-3 252.7 886.4)"/>
<ellipse class="flat" cx="266.9" cy="886.27" rx="6.4" ry="1.53" transform="rotate(-3 266.9 886.27)"/>
<ellipse class="flat" cx="281.1" cy="886.4" rx="6.4" ry="1.4" transform="rotate(-3 281.1 886.4)"/>
<ellipse class="flat" cx="295.3" cy="886.4" rx="6.4" ry="1.4" transform="rotate(-3 295.3 886.4)"/>
<text transform="translate(61.49,900.8) rotate(-45)" font-size="7" text-anchor="end" y="2.52" stroke-width="0.3">1.7</text>
<text transform="translate(89.87,900.8) rotate(-45)" font-size="7" text-anchor="end" y="2.52" stroke-width="0.3">3.9</text>
<text transform="translate(118.25,900.8) rotate(-45)" font-size="7" text-anchor="end" y="2.52" stroke-width="0.3">6.8</text>
<text transform="translate(146.62,900.8) rotate(-45)" font-size="7" text-anchor="end" y="2.52" stroke-width="0.3">9.7</text>
<text transform="translate(175,900.8) rotate(-45)" font-size="7" text-anchor="end" y="2.52" stroke-width="0.3">12.7</text>
<text transform="translate(203.38,900.8) rotate(-45)" font-size="7" text-anchor="end" y="2.52" stroke-width="0.3">15.6</text>
<text transform="translate(231.75,900.8) rotate(-45)" font-size="7" text-anchor="end" y="2.52" stroke-width="0.3">18.6</text>
<text transform="translate(260.13,900.8) rotate(-45)" font-size="7" text-anchor="end" y="2.52" stroke-width="0.3">21.6</text>
<text transform="translate(288.51,900.8) rotate(-45)" font-size="7" text-anchor="end" y="2.52" stroke-width="0.3">24.6</text>
<rect class="lg" x="217.3" y="790.1" width="3.8" height="3.9"/>
<text x="223.6" y="794.99" font-size="7.3" textLength="65.5" lengthAdjust="spacingAndGlyphs">Employment density</text>
<text x="291.2" y="909.09" font-size="5.74" textLength="39.6" lengthAdjust="spacingAndGlyphs">Distance（km)</text>
<text x="18.4" y="739.25" font-size="6.83" textLength="37.2" lengthAdjust="spacingAndGlyphs">Pop.per km²</text>
<text class="cap" x="48.5" y="946.7" textLength="235" lengthAdjust="spacingAndGlyphs">(j).Tiananmen-Beiqijia direction</text>
</g>
<g id="panel-k">
<polyline class="g" points="393.3,754.2 401.3,747.6 651.9,747.6"/>
<polyline class="g" points="393.3,781.42 401.3,774.98 651.9,774.98"/>
<polyline class="g" points="393.3,808.64 401.3,802.36 651.9,802.36"/>
<polyline class="g" points="393.3,835.86 401.3,829.74 651.9,829.74"/>
<polyline class="g" points="393.3,863.08 401.3,857.12 651.9,857.12"/>
<polyline class="g" points="393.3,890.3 401.3,884.5 651.9,884.5"/>
<polygon class="g" points="393.3,890.3 401.3,884.5 651.9,884.5 644.1,890.3"/>
<line class="g" x1="393.3" y1="754.2" x2="393.3" y2="890.3"/>
<path class="tk" d="M393.3,754.2 h-1.8 M393.3,781.42 h-1.8 M393.3,808.64 h-1.8 M393.3,835.86 h-1.8 M393.3,863.08 h-1.8 M393.3,890.3 h-1.8"/>
<path class="tk" d="M393.3,890.3 v1.8 M404.2,890.3 v1.8 M415.11,890.3 v1.8 M426.01,890.3 v1.8 M436.92,890.3 v1.8 M447.82,890.3 v1.8 M458.73,890.3 v1.8 M469.63,890.3 v1.8 M480.53,890.3 v1.8 M491.44,890.3 v1.8 M502.34,890.3 v1.8 M513.25,890.3 v1.8 M524.15,890.3 v1.8 M535.06,890.3 v1.8 M545.96,890.3 v1.8 M556.87,890.3 v1.8 M567.77,890.3 v1.8 M578.67,890.3 v1.8 M589.58,890.3 v1.8 M600.48,890.3 v1.8 M611.39,890.3 v1.8 M622.29,890.3 v1.8 M633.2,890.3 v1.8 M644.1,890.3 v1.8"/>
<text x="385.9" y="757.01" font-size="7.1" text-anchor="end">100000</text>
<text x="385.9" y="784.23" font-size="7.1" text-anchor="end">80000</text>
<text x="385.9" y="811.45" font-size="7.1" text-anchor="end">60000</text>
<text x="385.9" y="838.67" font-size="7.1" text-anchor="end">40000</text>
<text x="385.9" y="865.89" font-size="7.1" text-anchor="end">20000</text>
<text x="385.9" y="893.11" font-size="7.1" text-anchor="end">0</text>
<path class="bar" d="M397.8,790.94 L397.8,887.39 A5.05,1.45 -5 0 0 407.9,886.51 L407.9,790.06 A5.05,1.45 -5 0 0 397.8,790.94Z"/>
<ellipse class="top" cx="402.85" cy="790.5" rx="4.8" ry="1.35" transform="rotate(-5 402.85 790.5)"/>
<path class="bar" d="M408.69,877.34 L408.69,887.39 A5.05,1.45 -5 0 0 418.79,886.51 L418.79,876.46 A5.05,1.45 -5 0 0 408.69,877.34Z"/>
<ellipse class="top" cx="413.74" cy="876.9" rx="4.8" ry="1.35" transform="rotate(-5 413.74 876.9)"/>
<path class="bar" d="M419.58,805.04 L419.58,887.39 A5.05,1.45 -5 0 0 429.68,886.51 L429.68,804.16 A5.05,1.45 -5 0 0 419.58,805.04Z"/>
<ellipse class="top" cx="424.63" cy="804.6" rx="4.8" ry="1.35" transform="rotate(-5 424.63 804.6)"/>
<path class="bar" d="M430.47,858.94 L430.47,887.39 A5.05,1.45 -5 0 0 440.57,886.51 L440.57,858.06 A5.05,1.45 -5 0 0 430.47,858.94Z"/>
<ellipse class="top" cx="435.52" cy="858.5" rx="4.8" ry="1.35" transform="rotate(-5 435.52 858.5)"/>
<path class="bar" d="M441.36,847.64 L441.36,887.39 A5.05,1.45 -5 0 0 451.46,886.51 L451.46,846.76 A5.05,1.45 -5 0 0 441.36,847.64Z"/>
<ellipse class="top" cx="446.41" cy="847.2" rx="4.8" ry="1.35" transform="rotate(-5 446.41 847.2)"/>
<path class="bar" d="M452.25,853.14 L452.25,887.39 A5.05,1.45 -5 0 0 462.35,886.51 L462.35,852.26 A5.05,1.45 -5 0 0 452.25,853.14Z"/>
<ellipse class="top" cx="457.3" cy="852.7" rx="4.8" ry="1.35" transform="rotate(-5 457.3 852.7)"/>
<path class="bar" d="M463.14,795.54 L463.14,887.39 A5.05,1.45 -5 0 0 473.24,886.51 L473.24,794.66 A5.05,1.45 -5 0 0 463.14,795.54Z"/>
<ellipse class="top" cx="468.19" cy="795.1" rx="4.8" ry="1.35" transform="rotate(-5 468.19 795.1)"/>
<path class="bar" d="M474.03,821.74 L474.03,887.39 A5.05,1.45 -5 0 0 484.13,886.51 L484.13,820.86 A5.05,1.45 -5 0 0 474.03,821.74Z"/>
<ellipse class="top" cx="479.08" cy="821.3" rx="4.8" ry="1.35" transform="rotate(-5 479.08 821.3)"/>
<path class="bar" d="M484.92,803.34 L484.92,887.39 A5.05,1.45 -5 0 0 495.02,886.51 L495.02,802.46 A5.05,1.45 -5 0 0 484.92,803.34Z"/>
<ellipse class="top" cx="489.97" cy="802.9" rx="4.8" ry="1.35" transform="rotate(-5 489.97 802.9)"/>
<path class="bar" d="M495.81,876.84 L495.81,887.39 A5.05,1.45 -5 0 0 505.91,886.51 L505.91,875.96 A5.05,1.45 -5 0 0 495.81,876.84Z"/>
<ellipse class="top" cx="500.86" cy="876.4" rx="4.8" ry="1.35" transform="rotate(-5 500.86 876.4)"/>
<ellipse class="flat" cx="511.75" cy="886.7" rx="4.75" ry="1.4" transform="rotate(-3 511.75 886.7)"/>
<path class="bar" d="M517.59,878.14 L517.59,887.39 A5.05,1.45 -5 0 0 527.69,886.51 L527.69,877.26 A5.05,1.45 -5 0 0 517.59,878.14Z"/>
<ellipse class="top" cx="522.64" cy="877.7" rx="4.8" ry="1.35" transform="rotate(-5 522.64 877.7)"/>
<ellipse class="flat" cx="533.53" cy="886.65" rx="4.75" ry="1.45" transform="rotate(-3 533.53 886.65)"/>
<path class="bar" d="M539.37,878.45 L539.37,887.39 A5.05,1.45 -5 0 0 549.47,886.51 L549.47,877.57 A5.05,1.45 -5 0 0 539.37,878.45Z"/>
<ellipse class="top" cx="544.42" cy="878.01" rx="4.8" ry="1.35" transform="rotate(-5 544.42 878.01)"/>
<path class="bar" d="M550.26,884.11 L550.26,887.39 A5.05,1.45 -5 0 0 560.36,886.51 L560.36,883.23 A5.05,1.45 -5 0 0 550.26,884.11Z"/>
<ellipse class="top" cx="555.31" cy="883.67" rx="4.8" ry="1.35" transform="rotate(-5 555.31 883.67)"/>
<ellipse class="flat" cx="566.2" cy="886.7" rx="4.75" ry="1.4" transform="rotate(-3 566.2 886.7)"/>
<ellipse class="flat" cx="577.09" cy="886.95" rx="4.75" ry="1.15" transform="rotate(-3 577.09 886.95)"/>
<ellipse class="flat" cx="587.98" cy="886.9" rx="4.75" ry="1.2" transform="rotate(-3 587.98 886.9)"/>
<ellipse class="flat" cx="598.87" cy="886.95" rx="4.75" ry="1.15" transform="rotate(-3 598.87 886.95)"/>
<ellipse class="flat" cx="609.76" cy="886.95" rx="4.75" ry="1.15" transform="rotate(-3 609.76 886.95)"/>
<ellipse class="flat" cx="620.65" cy="886.95" rx="4.75" ry="1.15" transform="rotate(-3 620.65 886.95)"/>
<ellipse class="flat" cx="631.54" cy="886.95" rx="4.75" ry="1.15" transform="rotate(-3 631.54 886.95)"/>
<ellipse class="flat" cx="642.43" cy="886.95" rx="4.75" ry="1.15" transform="rotate(-3 642.43 886.95)"/>
<text transform="translate(397.25,900.8) rotate(-45)" font-size="7.2" text-anchor="end" y="2.59" stroke-width="0.35">3.2</text>
<text transform="translate(419.06,900.8) rotate(-45)" font-size="7.2" text-anchor="end" y="2.59" stroke-width="0.35">5.1</text>
<text transform="translate(440.87,900.8) rotate(-45)" font-size="7.2" text-anchor="end" y="2.59" stroke-width="0.35">7.1</text>
<text transform="translate(462.68,900.8) rotate(-45)" font-size="7.2" text-anchor="end" y="2.59" stroke-width="0.35">8.0</text>
<text transform="translate(484.49,900.8) rotate(-45)" font-size="7.2" text-anchor="end" y="2.59" stroke-width="0.35">9.0</text>
<text transform="translate(506.3,900.8) rotate(-45)" font-size="7.2" text-anchor="end" y="2.59" stroke-width="0.35">14.3</text>
<text transform="translate(528.1,900.8) rotate(-45)" font-size="7.2" text-anchor="end" y="2.59" stroke-width="0.35">16.4</text>
<text transform="translate(549.91,900.8) rotate(-45)" font-size="7.2" text-anchor="end" y="2.59" stroke-width="0.35">17.5</text>
<text transform="translate(571.72,900.8) rotate(-45)" font-size="7.2" text-anchor="end" y="2.59" stroke-width="0.35">19.6</text>
<text transform="translate(593.53,900.8) rotate(-45)" font-size="7.2" text-anchor="end" y="2.59" stroke-width="0.35">21.7</text>
<text transform="translate(615.34,900.8) rotate(-45)" font-size="7.2" text-anchor="end" y="2.59" stroke-width="0.35">23.8</text>
<text transform="translate(637.15,900.8) rotate(-45)" font-size="7.2" text-anchor="end" y="2.59" stroke-width="0.35">25.9</text>
<rect class="lg" x="565.6" y="791.8" width="4.2" height="4.2"/>
<text x="572" y="796.89" font-size="7.3" textLength="66.6" lengthAdjust="spacingAndGlyphs">Employment density</text>
<text x="644.9" y="907.64" font-size="5.88" textLength="40.6" lengthAdjust="spacingAndGlyphs">Distance（km)</text>
<text x="355.4" y="744.66" font-size="8.21" textLength="44.7" lengthAdjust="spacingAndGlyphs">Pop.per km²</text>
<text class="cap" x="387.5" y="950.2" textLength="242" lengthAdjust="spacingAndGlyphs">(k).Tiananmen-Sujiatuo direction</text>
</g>
<g id="panel-l">
<polyline class="g" points="733.6,755.9 741.5,749.7 982.1,749.7"/>
<polyline class="g" points="733.6,783.02 741.5,776.92 982.1,776.92"/>
<polyline class="g" points="733.6,810.14 741.5,804.14 982.1,804.14"/>
<polyline class="g" points="733.6,837.26 741.5,831.36 982.1,831.36"/>
<polyline class="g" points="733.6,864.38 741.5,858.58 982.1,858.58"/>
<polyline class="g" points="733.6,891.5 741.5,885.8 982.1,885.8"/>
<polygon class="g" points="733.6,891.5 741.5,885.8 982.1,885.8 974.6,891.5"/>
<line class="g" x1="733.6" y1="755.9" x2="733.6" y2="891.5"/>
<path class="tk" d="M733.6,755.9 h-1.8 M733.6,783.02 h-1.8 M733.6,810.14 h-1.8 M733.6,837.26 h-1.8 M733.6,864.38 h-1.8 M733.6,891.5 h-1.8"/>
<path class="tk" d="M733.6,891.5 v1.8 M743.64,891.5 v1.8 M753.68,891.5 v1.8 M763.73,891.5 v1.8 M773.77,891.5 v1.8 M783.81,891.5 v1.8 M793.85,891.5 v1.8 M803.89,891.5 v1.8 M813.93,891.5 v1.8 M823.98,891.5 v1.8 M834.02,891.5 v1.8 M844.06,891.5 v1.8 M854.1,891.5 v1.8 M864.14,891.5 v1.8 M874.18,891.5 v1.8 M884.23,891.5 v1.8 M894.27,891.5 v1.8 M904.31,891.5 v1.8 M914.35,891.5 v1.8 M924.39,891.5 v1.8 M934.43,891.5 v1.8 M944.48,891.5 v1.8 M954.52,891.5 v1.8 M964.56,891.5 v1.8 M974.6,891.5 v1.8"/>
<text x="727.3" y="758.71" font-size="7.1" text-anchor="end">100000</text>
<text x="727.3" y="785.83" font-size="7.1" text-anchor="end">80000</text>
<text x="727.3" y="812.95" font-size="7.1" text-anchor="end">60000</text>
<text x="727.3" y="840.07" font-size="7.1" text-anchor="end">40000</text>
<text x="727.3" y="867.19" font-size="7.1" text-anchor="end">20000</text>
<text x="727.3" y="894.31" font-size="7.1" text-anchor="end">0</text>
<path class="bar" d="M738,878.41 L738,888.79 A4.75,1.43 -5 0 0 747.5,887.96 L747.5,877.59 A4.75,1.43 -5 0 0 738,878.41Z"/>
<ellipse class="top" cx="742.75" cy="878" rx="4.5" ry="1.33" transform="rotate(-5 742.75 878)"/>
<path class="bar" d="M748.02,851.41 L748.02,888.79 A4.75,1.43 -5 0 0 757.52,887.96 L757.52,850.59 A4.75,1.43 -5 0 0 748.02,851.41Z"/>
<ellipse class="top" cx="752.77" cy="851" rx="4.5" ry="1.33" transform="rotate(-5 752.77 851)"/>
<path class="bar" d="M758.04,837.51 L758.04,888.79 A4.75,1.43 -5 0 0 767.54,887.96 L767.54,836.69 A4.75,1.43 -5 0 0 758.04,837.51Z"/>
<ellipse class="top" cx="762.79" cy="837.1" rx="4.5" ry="1.33" transform="rotate(-5 762.79 837.1)"/>
<path class="bar" d="M768.06,843.91 L768.06,888.79 A4.75,1.43 -5 0 0 777.56,887.96 L777.56,843.09 A4.75,1.43 -5 0 0 768.06,843.91Z"/>
<ellipse class="top" cx="772.81" cy="843.5" rx="4.5" ry="1.33" transform="rotate(-5 772.81 843.5)"/>
<path class="bar" d="M778.08,822.21 L778.08,888.79 A4.75,1.43 -5 0 0 787.58,887.96 L787.58,821.39 A4.75,1.43 -5 0 0 778.08,822.21Z"/>
<ellipse class="top" cx="782.83" cy="821.8" rx="4.5" ry="1.33" transform="rotate(-5 782.83 821.8)"/>
<path class="bar" d="M788.1,845.91 L788.1,888.79 A4.75,1.43 -5 0 0 797.6,887.96 L797.6,845.09 A4.75,1.43 -5 0 0 788.1,845.91Z"/>
<ellipse class="top" cx="792.85" cy="845.5" rx="4.5" ry="1.33" transform="rotate(-5 792.85 845.5)"/>
<path class="bar" d="M798.12,877.31 L798.12,888.79 A4.75,1.43 -5 0 0 807.62,887.96 L807.62,876.49 A4.75,1.43 -5 0 0 798.12,877.31Z"/>
<ellipse class="top" cx="802.87" cy="876.9" rx="4.5" ry="1.33" transform="rotate(-5 802.87 876.9)"/>
<path class="bar" d="M808.14,884.39 L808.14,888.79 A4.75,1.43 -5 0 0 817.64,887.96 L817.64,883.56 A4.75,1.43 -5 0 0 808.14,884.39Z"/>
<ellipse class="top" cx="812.89" cy="883.98" rx="4.5" ry="1.33" transform="rotate(-5 812.89 883.98)"/>
<path class="bar" d="M818.16,882.54 L818.16,888.79 A4.75,1.43 -5 0 0 827.66,887.96 L827.66,881.71 A4.75,1.43 -5 0 0 818.16,882.54Z"/>
<ellipse class="top" cx="822.91" cy="882.13" rx="4.5" ry="1.33" transform="rotate(-5 822.91 882.13)"/>
<path class="bar" d="M828.18,882 L828.18,888.79 A4.75,1.43 -5 0 0 837.68,887.96 L837.68,881.17 A4.75,1.43 -5 0 0 828.18,882Z"/>
<ellipse class="top" cx="832.93" cy="881.59" rx="4.5" ry="1.33" transform="rotate(-5 832.93 881.59)"/>
<path class="bar" d="M838.2,879.51 L838.2,888.79 A4.75,1.43 -5 0 0 847.7,887.96 L847.7,878.69 A4.75,1.43 -5 0 0 838.2,879.51Z"/>
<ellipse class="top" cx="842.95" cy="879.1" rx="4.5" ry="1.33" transform="rotate(-5 842.95 879.1)"/>
<path class="bar" d="M848.22,877.81 L848.22,888.79 A4.75,1.43 -5 0 0 857.72,887.96 L857.72,876.99 A4.75,1.43 -5 0 0 848.22,877.81Z"/>
<ellipse class="top" cx="852.97" cy="877.4" rx="4.5" ry="1.33" transform="rotate(-5 852.97 877.4)"/>
<path class="bar" d="M858.24,882.54 L858.24,888.79 A4.75,1.43 -5 0 0 867.74,887.96 L867.74,881.71 A4.75,1.43 -5 0 0 858.24,882.54Z"/>
<ellipse class="top" cx="862.99" cy="882.13" rx="4.5" ry="1.33" transform="rotate(-5 862.99 882.13)"/>
<ellipse class="flat" cx="873.01" cy="887.99" rx="4.45" ry="1.51" transform="rotate(-3 873.01 887.99)"/>
<ellipse class="flat" cx="883.03" cy="888.35" rx="4.45" ry="1.15" transform="rotate(-3 883.03 888.35)"/>
<ellipse class="flat" cx="893.05" cy="888.35" rx="4.45" ry="1.15" transform="rotate(-3 893.05 888.35)"/>
<ellipse class="flat" cx="903.07" cy="888.35" rx="4.45" ry="1.15" transform="rotate(-3 903.07 888.35)"/>
<ellipse class="flat" cx="913.09" cy="888.35" rx="4.45" ry="1.15" transform="rotate(-3 913.09 888.35)"/>
<ellipse class="flat" cx="923.11" cy="888.35" rx="4.45" ry="1.15" transform="rotate(-3 923.11 888.35)"/>
<ellipse class="flat" cx="933.13" cy="888.35" rx="4.45" ry="1.15" transform="rotate(-3 933.13 888.35)"/>
<ellipse class="flat" cx="943.15" cy="888.35" rx="4.45" ry="1.15" transform="rotate(-3 943.15 888.35)"/>
<ellipse class="flat" cx="953.17" cy="888.35" rx="4.45" ry="1.15" transform="rotate(-3 953.17 888.35)"/>
<ellipse class="flat" cx="963.19" cy="888.23" rx="4.45" ry="1.27" transform="rotate(-3 963.19 888.23)"/>
<text transform="translate(737.12,902) rotate(-45)" font-size="6.8" text-anchor="end" y="2.45" stroke-width="0.25">1.7</text>
<text transform="translate(757.2,902) rotate(-45)" font-size="6.8" text-anchor="end" y="2.45" stroke-width="0.25">3.3</text>
<text transform="translate(777.29,902) rotate(-45)" font-size="6.8" text-anchor="end" y="2.45" stroke-width="0.25">5.3</text>
<text transform="translate(797.37,902) rotate(-45)" font-size="6.8" text-anchor="end" y="2.45" stroke-width="0.25">7.3</text>
<text transform="translate(817.45,902) rotate(-45)" font-size="6.8" text-anchor="end" y="2.45" stroke-width="0.25">9.3</text>
<text transform="translate(837.54,902) rotate(-45)" font-size="6.8" text-anchor="end" y="2.45" stroke-width="0.25">11.4</text>
<text transform="translate(857.62,902) rotate(-45)" font-size="6.8" text-anchor="end" y="2.45" stroke-width="0.25">13.5</text>
<text transform="translate(877.7,902) rotate(-45)" font-size="6.8" text-anchor="end" y="2.45" stroke-width="0.25">15.6</text>
<text transform="translate(897.79,902) rotate(-45)" font-size="6.8" text-anchor="end" y="2.45" stroke-width="0.25">17.8</text>
<text transform="translate(917.87,902) rotate(-45)" font-size="6.8" text-anchor="end" y="2.45" stroke-width="0.25">20.1</text>
<text transform="translate(937.95,902) rotate(-45)" font-size="6.8" text-anchor="end" y="2.45" stroke-width="0.25">24.3</text>
<text transform="translate(958.04,902) rotate(-45)" font-size="6.8" text-anchor="end" y="2.45" stroke-width="0.25">27.6</text>
<rect class="lg" x="885.2" y="794" width="4" height="4"/>
<text x="891.4" y="798.89" font-size="7.3" textLength="61.8" lengthAdjust="spacingAndGlyphs">Employment density</text>
<text x="967.1" y="905.93" font-size="4.64" textLength="32" lengthAdjust="spacingAndGlyphs">Distance（km)</text>
<text x="698.5" y="744.5" font-size="7.68" textLength="41.8" lengthAdjust="spacingAndGlyphs">Pop.per km²</text>
<text class="cap" x="711" y="950.2" textLength="258.5" lengthAdjust="spacingAndGlyphs">(l).Tiananmen-Changyang direction</text>
</g>
<g id="panel-m">
<polyline class="g" points="55.4,986.4 63.5,980 317.6,980"/>
<polyline class="g" points="55.4,1015.26 63.5,1008.9 317.6,1008.9"/>
<polyline class="g" points="55.4,1044.12 63.5,1037.8 317.6,1037.8"/>
<polyline class="g" points="55.4,1072.98 63.5,1066.7 317.6,1066.7"/>
<polyline class="g" points="55.4,1101.84 63.5,1095.6 317.6,1095.6"/>
<polyline class="g" points="55.4,1130.7 63.5,1124.5 317.6,1124.5"/>
<polygon class="g" points="55.4,1130.7 63.5,1124.5 317.6,1124.5 309.9,1130.7"/>
<line class="g" x1="55.4" y1="986.4" x2="55.4" y2="1130.7"/>
<path class="tk" d="M55.4,986.4 h-1.8 M55.4,1015.26 h-1.8 M55.4,1044.12 h-1.8 M55.4,1072.98 h-1.8 M55.4,1101.84 h-1.8 M55.4,1130.7 h-1.8"/>
<path class="tk" d="M55.4,1130.7 v1.8 M66,1130.7 v1.8 M76.61,1130.7 v1.8 M87.21,1130.7 v1.8 M97.82,1130.7 v1.8 M108.42,1130.7 v1.8 M119.03,1130.7 v1.8 M129.63,1130.7 v1.8 M140.23,1130.7 v1.8 M150.84,1130.7 v1.8 M161.44,1130.7 v1.8 M172.05,1130.7 v1.8 M182.65,1130.7 v1.8 M193.25,1130.7 v1.8 M203.86,1130.7 v1.8 M214.46,1130.7 v1.8 M225.07,1130.7 v1.8 M235.67,1130.7 v1.8 M246.28,1130.7 v1.8 M256.88,1130.7 v1.8 M267.48,1130.7 v1.8 M278.09,1130.7 v1.8 M288.69,1130.7 v1.8 M299.3,1130.7 v1.8 M309.9,1130.7 v1.8"/>
<text x="48.4" y="989.21" font-size="7.1" text-anchor="end">100000</text>
<text x="48.4" y="1018.07" font-size="7.1" text-anchor="end">80000</text>
<text x="48.4" y="1046.93" font-size="7.1" text-anchor="end">60000</text>
<text x="48.4" y="1075.79" font-size="7.1" text-anchor="end">40000</text>
<text x="48.4" y="1104.65" font-size="7.1" text-anchor="end">20000</text>
<text x="48.4" y="1133.51" font-size="7.1" text-anchor="end">0</text>
<path class="bar" d="M60.2,1102.03 L60.2,1127.68 A4.9,1.55 -5 0 0 70,1126.82 L70,1101.17 A4.9,1.55 -5 0 0 60.2,1102.03Z"/>
<ellipse class="top" cx="65.1" cy="1101.6" rx="4.65" ry="1.45" transform="rotate(-5 65.1 1101.6)"/>
<path class="bar" d="M70.8,1097.63 L70.8,1127.68 A4.9,1.55 -5 0 0 80.6,1126.82 L80.6,1096.77 A4.9,1.55 -5 0 0 70.8,1097.63Z"/>
<ellipse class="top" cx="75.7" cy="1097.2" rx="4.65" ry="1.45" transform="rotate(-5 75.7 1097.2)"/>
<path class="bar" d="M81.4,1087.83 L81.4,1127.68 A4.9,1.55 -5 0 0 91.2,1126.82 L91.2,1086.97 A4.9,1.55 -5 0 0 81.4,1087.83Z"/>
<ellipse class="top" cx="86.3" cy="1087.4" rx="4.65" ry="1.45" transform="rotate(-5 86.3 1087.4)"/>
<path class="bar" d="M92,1073.13 L92,1127.68 A4.9,1.55 -5 0 0 101.8,1126.82 L101.8,1072.27 A4.9,1.55 -5 0 0 92,1073.13Z"/>
<ellipse class="top" cx="96.9" cy="1072.7" rx="4.65" ry="1.45" transform="rotate(-5 96.9 1072.7)"/>
<path class="bar" d="M102.6,1081.43 L102.6,1127.68 A4.9,1.55 -5 0 0 112.4,1126.82 L112.4,1080.57 A4.9,1.55 -5 0 0 102.6,1081.43Z"/>
<ellipse class="top" cx="107.5" cy="1081" rx="4.65" ry="1.45" transform="rotate(-5 107.5 1081)"/>
<path class="bar" d="M113.2,1057.23 L113.2,1127.68 A4.9,1.55 -5 0 0 123,1126.82 L123,1056.37 A4.9,1.55 -5 0 0 113.2,1057.23Z"/>
<ellipse class="top" cx="118.1" cy="1056.8" rx="4.65" ry="1.45" transform="rotate(-5 118.1 1056.8)"/>
<path class="bar" d="M123.8,1096.43 L123.8,1127.68 A4.9,1.55 -5 0 0 133.6,1126.82 L133.6,1095.57 A4.9,1.55 -5 0 0 123.8,1096.43Z"/>
<ellipse class="top" cx="128.7" cy="1096" rx="4.65" ry="1.45" transform="rotate(-5 128.7 1096)"/>
<path class="bar" d="M134.4,1099.43 L134.4,1127.68 A4.9,1.55 -5 0 0 144.2,1126.82 L144.2,1098.57 A4.9,1.55 -5 0 0 134.4,1099.43Z"/>
<ellipse class="top" cx="139.3" cy="1099" rx="4.65" ry="1.45" transform="rotate(-5 139.3 1099)"/>
<path class="bar" d="M145,1112.03 L145,1127.68 A4.9,1.55 -5 0 0 154.8,1126.82 L154.8,1111.17 A4.9,1.55 -5 0 0 145,1112.03Z"/>
<ellipse class="top" cx="149.9" cy="1111.6" rx="4.65" ry="1.45" transform="rotate(-5 149.9 1111.6)"/>
<path class="bar" d="M155.6,1119.64 L155.6,1127.68 A4.9,1.55 -5 0 0 165.4,1126.82 L165.4,1118.78 A4.9,1.55 -5 0 0 155.6,1119.64Z"/>
<ellipse class="top" cx="160.5" cy="1119.21" rx="4.65" ry="1.45" transform="rotate(-5 160.5 1119.21)"/>
<path class="bar" d="M166.2,1104.03 L166.2,1127.68 A4.9,1.55 -5 0 0 176,1126.82 L176,1103.17 A4.9,1.55 -5 0 0 166.2,1104.03Z"/>
<ellipse class="top" cx="171.1" cy="1103.6" rx="4.65" ry="1.45" transform="rotate(-5 171.1 1103.6)"/>
<path class="bar" d="M176.8,1110.78 L176.8,1127.68 A4.9,1.55 -5 0 0 186.6,1126.82 L186.6,1109.93 A4.9,1.55 -5 0 0 176.8,1110.78Z"/>
<ellipse class="top" cx="181.7" cy="1110.35" rx="4.65" ry="1.45" transform="rotate(-5 181.7 1110.35)"/>
<path class="bar" d="M187.4,1114.32 L187.4,1127.68 A4.9,1.55 -5 0 0 197.2,1126.82 L197.2,1113.46 A4.9,1.55 -5 0 0 187.4,1114.32Z"/>
<ellipse class="top" cx="192.3" cy="1113.89" rx="4.65" ry="1.45" transform="rotate(-5 192.3 1113.89)"/>
<path class="bar" d="M198,1123.83 L198,1127.68 A4.9,1.55 -5 0 0 207.8,1126.82 L207.8,1122.98 A4.9,1.55 -5 0 0 198,1123.83Z"/>
<ellipse class="top" cx="202.9" cy="1123.41" rx="4.65" ry="1.45" transform="rotate(-5 202.9 1123.41)"/>
<ellipse class="flat" cx="213.5" cy="1127.15" rx="4.6" ry="1.35" transform="rotate(-3 213.5 1127.15)"/>
<ellipse class="flat" cx="224.1" cy="1126.95" rx="4.6" ry="1.55" transform="rotate(-3 224.1 1126.95)"/>
<ellipse class="flat" cx="234.7" cy="1126.9" rx="4.6" ry="1.6" transform="rotate(-3 234.7 1126.9)"/>
<ellipse class="flat" cx="245.3" cy="1127.35" rx="4.6" ry="1.15" transform="rotate(-3 245.3 1127.35)"/>
<path class="bar" d="M251,1119.64 L251,1127.68 A4.9,1.55 -5 0 0 260.8,1126.82 L260.8,1118.78 A4.9,1.55 -5 0 0 251,1119.64Z"/>
<ellipse class="top" cx="255.9" cy="1119.21" rx="4.65" ry="1.45" transform="rotate(-5 255.9 1119.21)"/>
<ellipse class="flat" cx="266.5" cy="1127.35" rx="4.6" ry="1.15" transform="rotate(-3 266.5 1127.35)"/>
<ellipse class="flat" cx="277.1" cy="1127.35" rx="4.6" ry="1.15" transform="rotate(-3 277.1 1127.35)"/>
<ellipse class="flat" cx="287.7" cy="1127.35" rx="4.6" ry="1.15" transform="rotate(-3 287.7 1127.35)"/>
<text transform="translate(59.2,1141.2) rotate(-45)" font-size="7.3" text-anchor="end" y="2.63" stroke-width="0.37">0.6</text>
<text transform="translate(80.41,1141.2) rotate(-45)" font-size="7.3" text-anchor="end" y="2.63" stroke-width="0.37">1.9</text>
<text transform="translate(101.62,1141.2) rotate(-45)" font-size="7.3" text-anchor="end" y="2.63" stroke-width="0.37">4.7</text>
<text transform="translate(122.83,1141.2) rotate(-45)" font-size="7.3" text-anchor="end" y="2.63" stroke-width="0.37">6.6</text>
<text transform="translate(144.04,1141.2) rotate(-45)" font-size="7.3" text-anchor="end" y="2.63" stroke-width="0.37">8.6</text>
<text transform="translate(165.24,1141.2) rotate(-45)" font-size="7.3" text-anchor="end" y="2.63" stroke-width="0.37">11.4</text>
<text transform="translate(186.45,1141.2) rotate(-45)" font-size="7.3" text-anchor="end" y="2.63" stroke-width="0.37">13.3</text>
<text transform="translate(207.66,1141.2) rotate(-45)" font-size="7.3" text-anchor="end" y="2.63" stroke-width="0.37">16.1</text>
<text transform="translate(228.87,1141.2) rotate(-45)" font-size="7.3" text-anchor="end" y="2.63" stroke-width="0.37">18.0</text>
<text transform="translate(250.08,1141.2) rotate(-45)" font-size="7.3" text-anchor="end" y="2.63" stroke-width="0.37">20.0</text>
<text transform="translate(271.29,1141.2) rotate(-45)" font-size="7.3" text-anchor="end" y="2.63" stroke-width="0.37">22.8</text>
<rect class="lg" x="214.4" y="1027.1" width="4.2" height="4.2"/>
<text x="220.6" y="1031.89" font-size="7.3" textLength="65.3" lengthAdjust="spacingAndGlyphs">Employment density</text>
<text x="302.9" y="1141.82" font-size="4.91" textLength="33.9" lengthAdjust="spacingAndGlyphs">Distance（km)</text>
<text x="18.7" y="975.39" font-size="7.97" textLength="43.4" lengthAdjust="spacingAndGlyphs">Pop.per km²</text>
<text class="cap" x="33.5" y="1182.7" textLength="288" lengthAdjust="spacingAndGlyphs">(m).Tiananmen-Changxindian direction</text>
</g>
<g id="panel-n">
<polyline class="g" points="391.6,991.7 401.3,984.2 651.9,984.2"/>
<polyline class="g" points="391.6,1020.2 401.3,1012.66 651.9,1012.66"/>
<polyline class="g" points="391.6,1048.7 401.3,1041.12 651.9,1041.12"/>
<polyline class="g" points="391.6,1077.2 401.3,1069.58 651.9,1069.58"/>
<polyline class="g" points="391.6,1105.7 401.3,1098.04 651.9,1098.04"/>
<polyline class="g" points="391.6,1134.2 401.3,1126.5 651.9,1126.5"/>
<polygon class="g" points="391.6,1134.2 401.3,1126.5 651.9,1126.5 642.4,1134.2"/>
<line class="g" x1="391.6" y1="991.7" x2="391.6" y2="1134.2"/>
<path class="tk" d="M391.6,991.7 h-1.8 M391.6,1020.2 h-1.8 M391.6,1048.7 h-1.8 M391.6,1077.2 h-1.8 M391.6,1105.7 h-1.8 M391.6,1134.2 h-1.8"/>
<path class="tk" d="M391.6,1134.2 v1.8 M404.8,1134.2 v1.8 M418,1134.2 v1.8 M431.2,1134.2 v1.8 M444.4,1134.2 v1.8 M457.6,1134.2 v1.8 M470.8,1134.2 v1.8 M484,1134.2 v1.8 M497.2,1134.2 v1.8 M510.4,1134.2 v1.8 M523.6,1134.2 v1.8 M536.8,1134.2 v1.8 M550,1134.2 v1.8 M563.2,1134.2 v1.8 M576.4,1134.2 v1.8 M589.6,1134.2 v1.8 M602.8,1134.2 v1.8 M616,1134.2 v1.8 M629.2,1134.2 v1.8 M642.4,1134.2 v1.8"/>
<text x="383.4" y="994.51" font-size="7.1" text-anchor="end">100000</text>
<text x="383.4" y="1023.01" font-size="7.1" text-anchor="end">80000</text>
<text x="383.4" y="1051.51" font-size="7.1" text-anchor="end">60000</text>
<text x="383.4" y="1080.01" font-size="7.1" text-anchor="end">40000</text>
<text x="383.4" y="1108.51" font-size="7.1" text-anchor="end">20000</text>
<text x="383.4" y="1137.01" font-size="7.1" text-anchor="end">0</text>
<path class="bar" d="M396.7,1104.94 L396.7,1130.42 A6.25,1.93 -5 0 0 409.2,1129.33 L409.2,1103.86 A6.25,1.93 -5 0 0 396.7,1104.94Z"/>
<ellipse class="top" cx="402.95" cy="1104.4" rx="6" ry="1.83" transform="rotate(-5 402.95 1104.4)"/>
<path class="bar" d="M409.89,1101.04 L409.89,1130.42 A6.25,1.93 -5 0 0 422.39,1129.33 L422.39,1099.96 A6.25,1.93 -5 0 0 409.89,1101.04Z"/>
<ellipse class="top" cx="416.14" cy="1100.5" rx="6" ry="1.83" transform="rotate(-5 416.14 1100.5)"/>
<path class="bar" d="M423.08,1074.84 L423.08,1130.42 A6.25,1.93 -5 0 0 435.58,1129.33 L435.58,1073.76 A6.25,1.93 -5 0 0 423.08,1074.84Z"/>
<ellipse class="top" cx="429.33" cy="1074.3" rx="6" ry="1.83" transform="rotate(-5 429.33 1074.3)"/>
<path class="bar" d="M436.27,1109.96 L436.27,1130.42 A6.25,1.93 -5 0 0 448.77,1129.33 L448.77,1108.87 A6.25,1.93 -5 0 0 436.27,1109.96Z"/>
<ellipse class="top" cx="442.52" cy="1109.42" rx="6" ry="1.83" transform="rotate(-5 442.52 1109.42)"/>
<path class="bar" d="M449.46,1100.44 L449.46,1130.42 A6.25,1.93 -5 0 0 461.96,1129.33 L461.96,1099.36 A6.25,1.93 -5 0 0 449.46,1100.44Z"/>
<ellipse class="top" cx="455.71" cy="1099.9" rx="6" ry="1.83" transform="rotate(-5 455.71 1099.9)"/>
<path class="bar" d="M462.65,1114.33 L462.65,1130.42 A6.25,1.93 -5 0 0 475.15,1129.33 L475.15,1113.24 A6.25,1.93 -5 0 0 462.65,1114.33Z"/>
<ellipse class="top" cx="468.9" cy="1113.79" rx="6" ry="1.83" transform="rotate(-5 468.9 1113.79)"/>
<path class="bar" d="M475.84,1104.14 L475.84,1130.42 A6.25,1.93 -5 0 0 488.34,1129.33 L488.34,1103.06 A6.25,1.93 -5 0 0 475.84,1104.14Z"/>
<ellipse class="top" cx="482.09" cy="1103.6" rx="6" ry="1.83" transform="rotate(-5 482.09 1103.6)"/>
<path class="bar" d="M489.03,1095.44 L489.03,1130.42 A6.25,1.93 -5 0 0 501.53,1129.33 L501.53,1094.36 A6.25,1.93 -5 0 0 489.03,1095.44Z"/>
<ellipse class="top" cx="495.28" cy="1094.9" rx="6" ry="1.83" transform="rotate(-5 495.28 1094.9)"/>
<path class="bar" d="M502.22,1102.94 L502.22,1130.42 A6.25,1.93 -5 0 0 514.72,1129.33 L514.72,1101.86 A6.25,1.93 -5 0 0 502.22,1102.94Z"/>
<ellipse class="top" cx="508.47" cy="1102.4" rx="6" ry="1.83" transform="rotate(-5 508.47 1102.4)"/>
<path class="bar" d="M515.41,1127.47 L515.41,1130.42 A6.25,1.93 -5 0 0 527.91,1129.33 L527.91,1126.38 A6.25,1.93 -5 0 0 515.41,1127.47Z"/>
<ellipse class="top" cx="521.66" cy="1126.93" rx="6" ry="1.83" transform="rotate(-5 521.66 1126.93)"/>
<ellipse class="flat" cx="534.85" cy="1130.15" rx="5.95" ry="1.35" transform="rotate(-3 534.85 1130.15)"/>
<path class="bar" d="M541.79,1128.98 L541.79,1130.42 A6.25,1.93 -5 0 0 554.29,1129.33 L554.29,1127.89 A6.25,1.93 -5 0 0 541.79,1128.98Z"/>
<ellipse class="top" cx="548.04" cy="1128.43" rx="6" ry="1.83" transform="rotate(-5 548.04 1128.43)"/>
<path class="bar" d="M554.98,1123.19 L554.98,1130.42 A6.25,1.93 -5 0 0 567.48,1129.33 L567.48,1122.1 A6.25,1.93 -5 0 0 554.98,1123.19Z"/>
<ellipse class="top" cx="561.23" cy="1122.64" rx="6" ry="1.83" transform="rotate(-5 561.23 1122.64)"/>
<path class="bar" d="M568.17,1128.4 L568.17,1130.42 A6.25,1.93 -5 0 0 580.67,1129.33 L580.67,1127.31 A6.25,1.93 -5 0 0 568.17,1128.4Z"/>
<ellipse class="top" cx="574.42" cy="1127.85" rx="6" ry="1.83" transform="rotate(-5 574.42 1127.85)"/>
<ellipse class="flat" cx="587.61" cy="1130.15" rx="5.95" ry="1.35" transform="rotate(-3 587.61 1130.15)"/>
<ellipse class="flat" cx="600.8" cy="1130.15" rx="5.95" ry="1.35" transform="rotate(-3 600.8 1130.15)"/>
<ellipse class="flat" cx="613.99" cy="1129.76" rx="5.95" ry="1.74" transform="rotate(-3 613.99 1129.76)"/>
<ellipse class="flat" cx="627.18" cy="1130.15" rx="5.95" ry="1.35" transform="rotate(-3 627.18 1130.15)"/>
<ellipse class="flat" cx="640.37" cy="1130.15" rx="5.95" ry="1.35" transform="rotate(-3 640.37 1130.15)"/>
<text transform="translate(396.7,1144.7) rotate(-45)" font-size="7.4" text-anchor="end" y="2.66" stroke-width="0.37">0.6</text>
<text transform="translate(423.1,1144.7) rotate(-45)" font-size="7.4" text-anchor="end" y="2.66" stroke-width="0.37">1.7</text>
<text transform="translate(449.5,1144.7) rotate(-45)" font-size="7.4" text-anchor="end" y="2.66" stroke-width="0.37">2.8</text>
<text transform="translate(475.9,1144.7) rotate(-45)" font-size="7.4" text-anchor="end" y="2.66" stroke-width="0.37">5.6</text>
<text transform="translate(502.3,1144.7) rotate(-45)" font-size="7.4" text-anchor="end" y="2.66" stroke-width="0.37">7.5</text>
<text transform="translate(528.7,1144.7) rotate(-45)" font-size="7.4" text-anchor="end" y="2.66" stroke-width="0.37">10.4</text>
<text transform="translate(555.1,1144.7) rotate(-45)" font-size="7.4" text-anchor="end" y="2.66" stroke-width="0.37">12.3</text>
<text transform="translate(581.5,1144.7) rotate(-45)" font-size="7.4" text-anchor="end" y="2.66" stroke-width="0.37">15.1</text>
<text transform="translate(607.9,1144.7) rotate(-45)" font-size="7.4" text-anchor="end" y="2.66" stroke-width="0.37">17.0</text>
<text transform="translate(634.3,1144.7) rotate(-45)" font-size="7.4" text-anchor="end" y="2.66" stroke-width="0.37">18.9</text>
<rect class="lg" x="549.7" y="1031.8" width="3.9" height="4.2"/>
<text x="555.9" y="1036.89" font-size="7.3" textLength="64.8" lengthAdjust="spacingAndGlyphs">Employment density</text>
<text x="637.9" y="1144.79" font-size="4.81" textLength="33.2" lengthAdjust="spacingAndGlyphs">Distance（km)</text>
<text x="355.4" y="978.59" font-size="7.97" textLength="43.4" lengthAdjust="spacingAndGlyphs">Pop.per km²</text>
<text class="cap" x="401.5" y="1189.7" textLength="236.5" lengthAdjust="spacingAndGlyphs">(n).Tiananmen-Yinghai direction</text>
</g>
<g id="panel-o">
<polyline class="g" points="726.8,988.7 735.1,982.2 991.9,982.2"/>
<polyline class="g" points="726.8,1017.94 735.1,1011.5 991.9,1011.5"/>
<polyline class="g" points="726.8,1047.18 735.1,1040.8 991.9,1040.8"/>
<polyline class="g" points="726.8,1076.42 735.1,1070.1 991.9,1070.1"/>
<polyline class="g" points="726.8,1105.66 735.1,1099.4 991.9,1099.4"/>
<polyline class="g" points="726.8,1134.9 735.1,1128.7 991.9,1128.7"/>
<polygon class="g" points="726.8,1134.9 735.1,1128.7 991.9,1128.7 984.1,1134.9"/>
<line class="g" x1="726.8" y1="988.7" x2="726.8" y2="1134.9"/>
<path class="tk" d="M726.8,988.7 h-1.8 M726.8,1017.94 h-1.8 M726.8,1047.18 h-1.8 M726.8,1076.42 h-1.8 M726.8,1105.66 h-1.8 M726.8,1134.9 h-1.8"/>
<path class="tk" d="M726.8,1134.9 v1.8 M737.52,1134.9 v1.8 M748.24,1134.9 v1.8 M758.96,1134.9 v1.8 M769.68,1134.9 v1.8 M780.4,1134.9 v1.8 M791.12,1134.9 v1.8 M801.85,1134.9 v1.8 M812.57,1134.9 v1.8 M823.29,1134.9 v1.8 M834.01,1134.9 v1.8 M844.73,1134.9 v1.8 M855.45,1134.9 v1.8 M866.17,1134.9 v1.8 M876.89,1134.9 v1.8 M887.61,1134.9 v1.8 M898.33,1134.9 v1.8 M909.05,1134.9 v1.8 M919.77,1134.9 v1.8 M930.5,1134.9 v1.8 M941.22,1134.9 v1.8 M951.94,1134.9 v1.8 M962.66,1134.9 v1.8 M973.38,1134.9 v1.8 M984.1,1134.9 v1.8"/>
<text x="718.9" y="991.51" font-size="7.1" text-anchor="end">100000</text>
<text x="718.9" y="1020.75" font-size="7.1" text-anchor="end">80000</text>
<text x="718.9" y="1049.99" font-size="7.1" text-anchor="end">60000</text>
<text x="718.9" y="1079.23" font-size="7.1" text-anchor="end">40000</text>
<text x="718.9" y="1108.47" font-size="7.1" text-anchor="end">20000</text>
<text x="718.9" y="1137.71" font-size="7.1" text-anchor="end">0</text>
<path class="bar" d="M731.3,1101.94 L731.3,1131.49 A5,1.55 -5 0 0 741.3,1130.61 L741.3,1101.06 A5,1.55 -5 0 0 731.3,1101.94Z"/>
<ellipse class="top" cx="736.3" cy="1101.5" rx="4.75" ry="1.45" transform="rotate(-5 736.3 1101.5)"/>
<path class="bar" d="M742.02,1106.44 L742.02,1131.49 A5,1.55 -5 0 0 752.02,1130.61 L752.02,1105.56 A5,1.55 -5 0 0 742.02,1106.44Z"/>
<ellipse class="top" cx="747.02" cy="1106" rx="4.75" ry="1.45" transform="rotate(-5 747.02 1106)"/>
<path class="bar" d="M752.74,1014.64 L752.74,1131.49 A5,1.55 -5 0 0 762.74,1130.61 L762.74,1013.76 A5,1.55 -5 0 0 752.74,1014.64Z"/>
<ellipse class="top" cx="757.74" cy="1014.2" rx="4.75" ry="1.45" transform="rotate(-5 757.74 1014.2)"/>
<path class="bar" d="M763.46,1101.14 L763.46,1131.49 A5,1.55 -5 0 0 773.46,1130.61 L773.46,1100.26 A5,1.55 -5 0 0 763.46,1101.14Z"/>
<ellipse class="top" cx="768.46" cy="1100.7" rx="4.75" ry="1.45" transform="rotate(-5 768.46 1100.7)"/>
<path class="bar" d="M774.18,1068.54 L774.18,1131.49 A5,1.55 -5 0 0 784.18,1130.61 L784.18,1067.66 A5,1.55 -5 0 0 774.18,1068.54Z"/>
<ellipse class="top" cx="779.18" cy="1068.1" rx="4.75" ry="1.45" transform="rotate(-5 779.18 1068.1)"/>
<path class="bar" d="M784.9,1094.44 L784.9,1131.49 A5,1.55 -5 0 0 794.9,1130.61 L794.9,1093.56 A5,1.55 -5 0 0 784.9,1094.44Z"/>
<ellipse class="top" cx="789.9" cy="1094" rx="4.75" ry="1.45" transform="rotate(-5 789.9 1094)"/>
<path class="bar" d="M795.62,1090.24 L795.62,1131.49 A5,1.55 -5 0 0 805.62,1130.61 L805.62,1089.36 A5,1.55 -5 0 0 795.62,1090.24Z"/>
<ellipse class="top" cx="800.62" cy="1089.8" rx="4.75" ry="1.45" transform="rotate(-5 800.62 1089.8)"/>
<path class="bar" d="M806.34,1064.24 L806.34,1131.49 A5,1.55 -5 0 0 816.34,1130.61 L816.34,1063.36 A5,1.55 -5 0 0 806.34,1064.24Z"/>
<ellipse class="top" cx="811.34" cy="1063.8" rx="4.75" ry="1.45" transform="rotate(-5 811.34 1063.8)"/>
<path class="bar" d="M817.06,1105.64 L817.06,1131.49 A5,1.55 -5 0 0 827.06,1130.61 L827.06,1104.76 A5,1.55 -5 0 0 817.06,1105.64Z"/>
<ellipse class="top" cx="822.06" cy="1105.2" rx="4.75" ry="1.45" transform="rotate(-5 822.06 1105.2)"/>
<path class="bar" d="M827.78,1118.64 L827.78,1131.49 A5,1.55 -5 0 0 837.78,1130.61 L837.78,1117.76 A5,1.55 -5 0 0 827.78,1118.64Z"/>
<ellipse class="top" cx="832.78" cy="1118.2" rx="4.75" ry="1.45" transform="rotate(-5 832.78 1118.2)"/>
<path class="bar" d="M838.5,1123.21 L838.5,1131.49 A5,1.55 -5 0 0 848.5,1130.61 L848.5,1122.34 A5,1.55 -5 0 0 838.5,1123.21Z"/>
<ellipse class="top" cx="843.5" cy="1122.77" rx="4.75" ry="1.45" transform="rotate(-5 843.5 1122.77)"/>
<ellipse class="flat" cx="854.22" cy="1131.12" rx="4.7" ry="1.18" transform="rotate(-3 854.22 1131.12)"/>
<ellipse class="flat" cx="864.94" cy="1131.12" rx="4.7" ry="1.18" transform="rotate(-3 864.94 1131.12)"/>
<path class="bar" d="M870.66,1119.84 L870.66,1131.49 A5,1.55 -5 0 0 880.66,1130.61 L880.66,1118.96 A5,1.55 -5 0 0 870.66,1119.84Z"/>
<ellipse class="top" cx="875.66" cy="1119.4" rx="4.75" ry="1.45" transform="rotate(-5 875.66 1119.4)"/>
<ellipse class="flat" cx="886.38" cy="1130.97" rx="4.7" ry="1.33" transform="rotate(-3 886.38 1130.97)"/>
<ellipse class="flat" cx="897.1" cy="1131.15" rx="4.7" ry="1.15" transform="rotate(-3 897.1 1131.15)"/>
<ellipse class="flat" cx="907.82" cy="1131.15" rx="4.7" ry="1.15" transform="rotate(-3 907.82 1131.15)"/>
<ellipse class="flat" cx="918.54" cy="1131.15" rx="4.7" ry="1.15" transform="rotate(-3 918.54 1131.15)"/>
<ellipse class="flat" cx="929.26" cy="1131.15" rx="4.7" ry="1.15" transform="rotate(-3 929.26 1131.15)"/>
<ellipse class="flat" cx="939.98" cy="1130.97" rx="4.7" ry="1.33" transform="rotate(-3 939.98 1130.97)"/>
<ellipse class="flat" cx="950.7" cy="1131.15" rx="4.7" ry="1.15" transform="rotate(-3 950.7 1131.15)"/>
<ellipse class="flat" cx="961.42" cy="1131.15" rx="4.7" ry="1.15" transform="rotate(-3 961.42 1131.15)"/>
<ellipse class="flat" cx="972.14" cy="1131.15" rx="4.7" ry="1.15" transform="rotate(-3 972.14 1131.15)"/>
<text transform="translate(730.66,1145.4) rotate(-45)" font-size="7.3" text-anchor="end" y="2.63" stroke-width="0.37">1.0</text>
<text transform="translate(752.1,1145.4) rotate(-45)" font-size="7.3" text-anchor="end" y="2.63" stroke-width="0.37">1.5</text>
<text transform="translate(773.54,1145.4) rotate(-45)" font-size="7.3" text-anchor="end" y="2.63" stroke-width="0.37">2.5</text>
<text transform="translate(794.99,1145.4) rotate(-45)" font-size="7.3" text-anchor="end" y="2.63" stroke-width="0.37">5.2</text>
<text transform="translate(816.43,1145.4) rotate(-45)" font-size="7.3" text-anchor="end" y="2.63" stroke-width="0.37">7.1</text>
<text transform="translate(837.87,1145.4) rotate(-45)" font-size="7.3" text-anchor="end" y="2.63" stroke-width="0.37">9.2</text>
<text transform="translate(859.31,1145.4) rotate(-45)" font-size="7.3" text-anchor="end" y="2.63" stroke-width="0.37">11.9</text>
<text transform="translate(880.75,1145.4) rotate(-45)" font-size="7.3" text-anchor="end" y="2.63" stroke-width="0.37">13.8</text>
<text transform="translate(902.19,1145.4) rotate(-45)" font-size="7.3" text-anchor="end" y="2.63" stroke-width="0.37">15.9</text>
<text transform="translate(923.64,1145.4) rotate(-45)" font-size="7.3" text-anchor="end" y="2.63" stroke-width="0.37">18.6</text>
<text transform="translate(945.08,1145.4) rotate(-45)" font-size="7.3" text-anchor="end" y="2.63" stroke-width="0.37">20.6</text>
<text transform="translate(966.52,1145.4) rotate(-45)" font-size="7.3" text-anchor="end" y="2.63" stroke-width="0.37">23.9</text>
<rect class="lg" x="890.2" y="1031" width="4" height="4.2"/>
<text x="896.4" y="1035.99" font-size="7.3" textLength="66" lengthAdjust="spacingAndGlyphs">Employment density</text>
<text x="977.1" y="1145.71" font-size="4.88" textLength="33.7" lengthAdjust="spacingAndGlyphs">Distance（km)</text>
<text x="689.7" y="977.82" font-size="8.06" textLength="43.9" lengthAdjust="spacingAndGlyphs">Pop.per km²</text>
<text class="cap" x="721" y="1189.7" textLength="253.5" lengthAdjust="spacingAndGlyphs">(o).Tiananmen-Houshayu direction</text>
</g>
</g>
</svg></body></html>
